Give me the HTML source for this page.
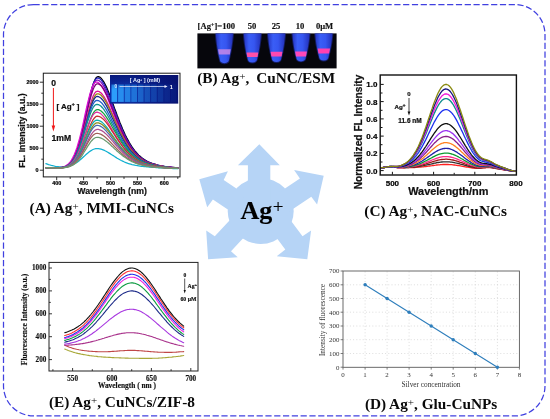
<!DOCTYPE html>
<html lang="en"><head><meta charset="utf-8"><title>Ag+ sensing with copper nanoclusters</title>
<style>
html,body{margin:0;padding:0;background:#fff;}
body{width:550px;height:419px;overflow:hidden;position:relative;}
svg{position:absolute;left:0;top:0;display:block;}
.sb{font-family:"Liberation Sans", Arial, sans-serif;font-weight:bold;fill:#111;stroke:#111;stroke-width:0.22px;}
.tb{font-family:"Liberation Serif", "Times New Roman", serif;font-weight:bold;fill:#111;stroke:#111;stroke-width:0.15px;}
.tr{font-family:"Liberation Serif", "Times New Roman", serif;font-weight:normal;fill:#333;}
.cap{font-family:"Liberation Serif", "Times New Roman", serif;font-weight:bold;font-size:15.3px;fill:#0a0a0a;}
.cv{fill:none;stroke-linejoin:round;stroke-linecap:round;}
</style></head><body>
<svg width="550" height="419" viewBox="0 0 550 419">

<defs>
<linearGradient id="tube" x1="0" y1="0" x2="1" y2="0">
<stop offset="0" stop-color="#2434c0"/><stop offset="0.3" stop-color="#3a5ef6"/><stop offset="0.6" stop-color="#3656f0"/><stop offset="1" stop-color="#2230b8"/>
</linearGradient>
<linearGradient id="inset" x1="0" y1="0" x2="1" y2="0">
<stop offset="0" stop-color="#0c2ea8"/><stop offset="0.3" stop-color="#0e36ac"/><stop offset="0.6" stop-color="#0a2290"/><stop offset="1" stop-color="#071274"/>
</linearGradient>
<linearGradient id="insetv" x1="0" y1="0" x2="0" y2="1">
<stop offset="0" stop-color="#06106c" stop-opacity="0.75"/><stop offset="0.3" stop-color="#06106c" stop-opacity="0.3"/><stop offset="0.5" stop-color="#06106c" stop-opacity="0"/><stop offset="0.92" stop-color="#06106c" stop-opacity="0"/><stop offset="1" stop-color="#06106c" stop-opacity="0.5"/>
</linearGradient>
<clipPath id="clipA"><rect x="43.8" y="73.7" width="135.7" height="102.7"/></clipPath>
<clipPath id="clipC"><rect x="380.8" y="75.6" width="135" height="98.8"/></clipPath>
<clipPath id="clipE"><rect x="49.5" y="263" width="148" height="107.5"/></clipPath>
</defs>

<rect x="3.5" y="4.5" width="541.5" height="411.4" rx="30" ry="30" fill="none" stroke="#4040e0" stroke-width="1.25" stroke-dasharray="6.2 2.6"/>
<g fill="#b6d4f6">
<circle cx="260.7" cy="210.9" r="33"/>
<polygon points="247.9,200.0 247.9,165.3 237.9,165.3 259.3,144.2 279.8,165.3 270.3,165.3 270.3,200.0"/>
<polygon points="234.5,213.9 212.9,199.4 207.2,207.3 199.3,179.3 227.9,171.2 223.7,180.0 245.3,194.5"/>
<polygon points="232.5,217.3 214.8,236.3 206.2,230.5 208.1,259.2 237.7,257.3 231.0,251.2 248.7,232.2"/>
<polygon points="278.2,193.0 299.9,178.6 294.1,170.0 323.7,175.8 317.1,204.4 311.3,196.8 289.6,211.2"/>
<polygon points="287.0,215.4 302.5,236.3 311.1,230.5 307.3,259.2 276.7,256.3 285.3,249.6 269.8,228.7"/>
</g>
<text x="240.6" y="218.6" class="tb" style="font-size:26px;fill:#000">Ag<tspan dx="0.3" dy="-5.6" style="font-size:19px;font-weight:normal">+</tspan></text>
<g clip-path="url(#clipA)">
<path class="cv" d="M45.9 163.6 L47.3 164.1 L48.6 164.6 L50.0 165.0 L51.3 165.4 L52.7 165.7 L54.0 166.0 L55.4 166.3 L56.7 166.5 L58.0 166.6 L59.4 166.8 L60.7 166.8 L62.1 166.9 L63.4 166.8 L64.8 166.7 L66.1 166.6 L67.5 166.4 L68.8 166.1 L70.2 165.7 L71.5 165.3 L72.8 164.7 L74.2 164.0 L75.5 163.3 L76.9 162.4 L78.2 161.4 L79.6 160.4 L80.9 159.2 L82.3 158.0 L83.6 156.8 L84.9 155.6 L86.3 154.3 L87.6 153.2 L89.0 152.1 L90.3 151.1 L91.7 150.2 L93.0 149.5 L94.4 149.0 L95.7 148.7 L97.1 148.6 L98.4 148.6 L99.7 148.8 L101.1 149.2 L102.4 149.6 L103.8 150.1 L105.1 150.8 L106.5 151.5 L107.8 152.2 L109.2 153.1 L110.5 153.9 L111.8 154.8 L113.2 155.6 L114.5 156.5 L115.9 157.4 L117.2 158.2 L118.6 159.0 L119.9 159.8 L121.3 160.5 L122.6 161.1 L124.0 161.8 L125.3 162.4 L126.6 162.9 L128.0 163.4 L129.3 163.8 L130.7 164.2 L132.0 164.6 L133.4 164.9 L134.7 165.2 L136.1 165.5 L137.4 165.7 L138.7 165.9 L140.1 166.1 L141.4 166.3 L142.8 166.4 L144.1 166.6 L145.5 166.7 L146.8 166.9 L148.2 167.0 L149.5 167.1 L150.9 167.2 L152.2 167.3 L153.5 167.4 L154.9 167.5 L156.2 167.6 L157.6 167.7 L158.9 167.8 L160.3 167.9 L161.6 167.9 L163.0 168.0 L164.3 168.1 L165.6 168.1 L167.0 168.2 L168.3 168.3 L169.7 168.3 L171.0 168.4 L172.4 168.5 L173.7 168.5 L175.1 168.6 L176.4 168.6 L177.8 168.7" stroke="#10b0d0" stroke-width="1.25"/>
<path class="cv" d="M45.9 167.6 L47.3 167.6 L48.6 167.7 L50.0 167.8 L51.3 167.8 L52.7 167.9 L54.0 167.9 L55.4 167.9 L56.7 167.9 L58.0 167.9 L59.4 167.8 L60.7 167.7 L62.1 167.5 L63.4 167.2 L64.8 166.8 L66.1 166.3 L67.5 165.6 L68.8 164.7 L70.2 163.5 L71.5 162.0 L72.8 160.1 L74.2 157.8 L75.5 154.9 L76.9 151.6 L78.2 147.7 L79.6 143.2 L80.9 138.1 L82.3 132.6 L83.6 126.6 L84.9 120.3 L86.3 113.8 L87.6 107.2 L89.0 100.8 L90.3 94.8 L91.7 89.4 L93.0 84.7 L94.4 81.0 L95.7 78.3 L97.1 76.9 L98.4 76.6 L99.7 77.1 L101.1 78.2 L102.4 79.8 L103.8 81.8 L105.1 84.3 L106.5 87.1 L107.8 90.3 L109.2 93.6 L110.5 97.1 L111.8 100.8 L113.2 104.5 L114.5 108.2 L115.9 111.8 L117.2 115.4 L118.6 119.0 L119.9 122.4 L121.3 125.7 L122.6 128.9 L124.0 132.0 L125.3 134.9 L126.6 137.6 L128.0 140.1 L129.3 142.5 L130.7 144.8 L132.0 146.9 L133.4 148.8 L134.7 150.6 L136.1 152.2 L137.4 153.7 L138.7 155.1 L140.1 156.3 L141.4 157.5 L142.8 158.5 L144.1 159.4 L145.5 160.3 L146.8 161.0 L148.2 161.7 L149.5 162.3 L150.9 162.9 L152.2 163.4 L153.5 163.8 L154.9 164.2 L156.2 164.6 L157.6 165.0 L158.9 165.3 L160.3 165.5 L161.6 165.8 L163.0 166.0 L164.3 166.3 L165.6 166.5 L167.0 166.7 L168.3 166.8 L169.7 167.0 L171.0 167.2 L172.4 167.3 L173.7 167.4 L175.1 167.6 L176.4 167.7 L177.8 167.8" stroke="#000000" stroke-width="1.25"/>
<path class="cv" d="M45.9 167.6 L47.3 167.6 L48.6 167.7 L50.0 167.8 L51.3 167.8 L52.7 167.9 L54.0 167.9 L55.4 167.9 L56.7 167.9 L58.0 167.8 L59.4 167.7 L60.7 167.6 L62.1 167.4 L63.4 167.1 L64.8 166.7 L66.1 166.1 L67.5 165.4 L68.8 164.4 L70.2 163.1 L71.5 161.5 L72.8 159.5 L74.2 157.1 L75.5 154.1 L76.9 150.6 L78.2 146.6 L79.6 142.0 L80.9 136.9 L82.3 131.3 L83.6 125.2 L84.9 118.9 L86.3 112.5 L87.6 106.1 L89.0 99.9 L90.3 94.1 L91.7 88.9 L93.0 84.6 L94.4 81.3 L95.7 79.0 L97.1 78.0 L98.4 78.1 L99.7 78.7 L101.1 79.9 L102.4 81.7 L103.8 83.8 L105.1 86.4 L106.5 89.3 L107.8 92.4 L109.2 95.8 L110.5 99.3 L111.8 102.9 L113.2 106.5 L114.5 110.2 L115.9 113.8 L117.2 117.3 L118.6 120.8 L119.9 124.1 L121.3 127.4 L122.6 130.5 L124.0 133.4 L125.3 136.2 L126.6 138.8 L128.0 141.3 L129.3 143.6 L130.7 145.8 L132.0 147.8 L133.4 149.7 L134.7 151.4 L136.1 152.9 L137.4 154.4 L138.7 155.7 L140.1 156.9 L141.4 157.9 L142.8 158.9 L144.1 159.8 L145.5 160.6 L146.8 161.3 L148.2 162.0 L149.5 162.6 L150.9 163.1 L152.2 163.6 L153.5 164.0 L154.9 164.4 L156.2 164.8 L157.6 165.1 L158.9 165.4 L160.3 165.7 L161.6 165.9 L163.0 166.2 L164.3 166.4 L165.6 166.6 L167.0 166.7 L168.3 166.9 L169.7 167.1 L171.0 167.2 L172.4 167.4 L173.7 167.5 L175.1 167.6 L176.4 167.8 L177.8 167.9" stroke="#2020c0" stroke-width="1.25"/>
<path class="cv" d="M45.9 167.6 L47.3 167.6 L48.6 167.7 L50.0 167.8 L51.3 167.8 L52.7 167.9 L54.0 167.9 L55.4 167.9 L56.7 167.9 L58.0 167.8 L59.4 167.7 L60.7 167.6 L62.1 167.4 L63.4 167.0 L64.8 166.6 L66.1 166.0 L67.5 165.2 L68.8 164.2 L70.2 162.9 L71.5 161.2 L72.8 159.2 L74.2 156.7 L75.5 153.7 L76.9 150.1 L78.2 146.1 L79.6 141.5 L80.9 136.3 L82.3 130.7 L83.6 124.8 L84.9 118.6 L86.3 112.3 L87.6 106.0 L89.0 100.1 L90.3 94.6 L91.7 89.7 L93.0 85.7 L94.4 82.7 L95.7 80.8 L97.1 80.0 L98.4 80.3 L99.7 81.1 L101.1 82.4 L102.4 84.1 L103.8 86.4 L105.1 88.9 L106.5 91.8 L107.8 95.0 L109.2 98.3 L110.5 101.8 L111.8 105.3 L113.2 108.8 L114.5 112.4 L115.9 115.9 L117.2 119.3 L118.6 122.7 L119.9 126.0 L121.3 129.1 L122.6 132.1 L124.0 134.9 L125.3 137.6 L126.6 140.1 L128.0 142.5 L129.3 144.7 L130.7 146.8 L132.0 148.7 L133.4 150.5 L134.7 152.1 L136.1 153.6 L137.4 155.0 L138.7 156.3 L140.1 157.4 L141.4 158.4 L142.8 159.4 L144.1 160.2 L145.5 161.0 L146.8 161.7 L148.2 162.3 L149.5 162.9 L150.9 163.4 L152.2 163.8 L153.5 164.2 L154.9 164.6 L156.2 164.9 L157.6 165.3 L158.9 165.5 L160.3 165.8 L161.6 166.0 L163.0 166.3 L164.3 166.5 L165.6 166.7 L167.0 166.8 L168.3 167.0 L169.7 167.1 L171.0 167.3 L172.4 167.4 L173.7 167.6 L175.1 167.7 L176.4 167.8 L177.8 167.9" stroke="#7a10c0" stroke-width="1.25"/>
<path class="cv" d="M45.9 167.6 L47.3 167.6 L48.6 167.7 L50.0 167.8 L51.3 167.8 L52.7 167.8 L54.0 167.8 L55.4 167.8 L56.7 167.8 L58.0 167.7 L59.4 167.6 L60.7 167.4 L62.1 167.2 L63.4 166.8 L64.8 166.2 L66.1 165.5 L67.5 164.6 L68.8 163.4 L70.2 161.9 L71.5 160.0 L72.8 157.6 L74.2 154.8 L75.5 151.5 L76.9 147.7 L78.2 143.3 L79.6 138.4 L80.9 133.1 L82.3 127.4 L83.6 121.3 L84.9 115.2 L86.3 109.0 L87.6 103.1 L89.0 97.6 L90.3 92.6 L91.7 88.4 L93.0 85.2 L94.4 83.0 L95.7 82.0 L97.1 82.0 L98.4 82.6 L99.7 83.8 L101.1 85.4 L102.4 87.4 L103.8 89.9 L105.1 92.6 L106.5 95.6 L107.8 98.8 L109.2 102.2 L110.5 105.6 L111.8 109.1 L113.2 112.6 L114.5 116.0 L115.9 119.4 L117.2 122.8 L118.6 126.0 L119.9 129.1 L121.3 132.0 L122.6 134.8 L124.0 137.5 L125.3 140.0 L126.6 142.4 L128.0 144.6 L129.3 146.7 L130.7 148.6 L132.0 150.4 L133.4 152.1 L134.7 153.6 L136.1 154.9 L137.4 156.2 L138.7 157.3 L140.1 158.4 L141.4 159.3 L142.8 160.2 L144.1 160.9 L145.5 161.6 L146.8 162.3 L148.2 162.8 L149.5 163.3 L150.9 163.8 L152.2 164.2 L153.5 164.6 L154.9 164.9 L156.2 165.2 L157.6 165.5 L158.9 165.8 L160.3 166.0 L161.6 166.2 L163.0 166.5 L164.3 166.6 L165.6 166.8 L167.0 167.0 L168.3 167.1 L169.7 167.3 L171.0 167.4 L172.4 167.5 L173.7 167.7 L175.1 167.8 L176.4 167.9 L177.8 168.0" stroke="#e010d0" stroke-width="1.25"/>
<path class="cv" d="M45.9 167.6 L47.3 167.6 L48.6 167.7 L50.0 167.8 L51.3 167.8 L52.7 167.9 L54.0 167.9 L55.4 167.9 L56.7 167.9 L58.0 167.8 L59.4 167.8 L60.7 167.6 L62.1 167.4 L63.4 167.2 L64.8 166.8 L66.1 166.2 L67.5 165.5 L68.8 164.6 L70.2 163.4 L71.5 161.8 L72.8 159.9 L74.2 157.6 L75.5 154.8 L76.9 151.5 L78.2 147.7 L79.6 143.3 L80.9 138.5 L82.3 133.2 L83.6 127.5 L84.9 121.6 L86.3 115.6 L87.6 109.6 L89.0 103.8 L90.3 98.5 L91.7 93.7 L93.0 89.7 L94.4 86.6 L95.7 84.6 L97.1 83.8 L98.4 83.9 L99.7 84.6 L101.1 85.7 L102.4 87.4 L103.8 89.4 L105.1 91.9 L106.5 94.6 L107.8 97.6 L109.2 100.7 L110.5 104.0 L111.8 107.4 L113.2 110.8 L114.5 114.2 L115.9 117.6 L117.2 120.9 L118.6 124.1 L119.9 127.2 L121.3 130.3 L122.6 133.1 L124.0 135.9 L125.3 138.5 L126.6 140.9 L128.0 143.2 L129.3 145.4 L130.7 147.4 L132.0 149.3 L133.4 151.0 L134.7 152.6 L136.1 154.0 L137.4 155.4 L138.7 156.6 L140.1 157.7 L141.4 158.7 L142.8 159.6 L144.1 160.4 L145.5 161.2 L146.8 161.9 L148.2 162.5 L149.5 163.0 L150.9 163.5 L152.2 164.0 L153.5 164.4 L154.9 164.7 L156.2 165.1 L157.6 165.4 L158.9 165.6 L160.3 165.9 L161.6 166.1 L163.0 166.3 L164.3 166.5 L165.6 166.7 L167.0 166.9 L168.3 167.0 L169.7 167.2 L171.0 167.3 L172.4 167.5 L173.7 167.6 L175.1 167.7 L176.4 167.8 L177.8 167.9" stroke="#800078" stroke-width="1.25"/>
<path class="cv" d="M45.9 167.6 L47.3 167.6 L48.6 167.7 L50.0 167.8 L51.3 167.8 L52.7 167.9 L54.0 167.9 L55.4 167.9 L56.7 167.9 L58.0 167.8 L59.4 167.8 L60.7 167.7 L62.1 167.5 L63.4 167.2 L64.8 166.9 L66.1 166.4 L67.5 165.7 L68.8 164.8 L70.2 163.7 L71.5 162.3 L72.8 160.6 L74.2 158.4 L75.5 155.9 L76.9 152.8 L78.2 149.3 L79.6 145.3 L80.9 140.9 L82.3 136.1 L83.6 130.9 L84.9 125.5 L86.3 120.0 L87.6 114.5 L89.0 109.2 L90.3 104.4 L91.7 100.1 L93.0 96.4 L94.4 93.7 L95.7 91.9 L97.1 91.2 L98.4 91.3 L99.7 91.9 L101.1 93.0 L102.4 94.5 L103.8 96.4 L105.1 98.6 L106.5 101.1 L107.8 103.9 L109.2 106.7 L110.5 109.8 L111.8 112.8 L113.2 115.9 L114.5 119.1 L115.9 122.1 L117.2 125.2 L118.6 128.1 L119.9 131.0 L121.3 133.7 L122.6 136.3 L124.0 138.8 L125.3 141.2 L126.6 143.4 L128.0 145.5 L129.3 147.5 L130.7 149.3 L132.0 151.0 L133.4 152.6 L134.7 154.0 L136.1 155.4 L137.4 156.6 L138.7 157.7 L140.1 158.7 L141.4 159.6 L142.8 160.4 L144.1 161.2 L145.5 161.9 L146.8 162.5 L148.2 163.0 L149.5 163.5 L150.9 164.0 L152.2 164.4 L153.5 164.7 L154.9 165.1 L156.2 165.4 L157.6 165.7 L158.9 165.9 L160.3 166.1 L161.6 166.3 L163.0 166.5 L164.3 166.7 L165.6 166.9 L167.0 167.0 L168.3 167.2 L169.7 167.3 L171.0 167.5 L172.4 167.6 L173.7 167.7 L175.1 167.8 L176.4 167.9 L177.8 168.0" stroke="#e0109a" stroke-width="1.25"/>
<path class="cv" d="M45.9 167.6 L47.3 167.6 L48.6 167.7 L50.0 167.8 L51.3 167.8 L52.7 167.9 L54.0 167.9 L55.4 167.9 L56.7 167.9 L58.0 167.9 L59.4 167.8 L60.7 167.7 L62.1 167.6 L63.4 167.3 L64.8 167.0 L66.1 166.5 L67.5 165.9 L68.8 165.1 L70.2 164.1 L71.5 162.8 L72.8 161.2 L74.2 159.2 L75.5 156.8 L76.9 154.0 L78.2 150.7 L79.6 146.9 L80.9 142.7 L82.3 138.1 L83.6 133.2 L84.9 128.0 L86.3 122.7 L87.6 117.4 L89.0 112.3 L90.3 107.5 L91.7 103.2 L93.0 99.5 L94.4 96.7 L95.7 94.8 L97.1 93.9 L98.4 93.9 L99.7 94.4 L101.1 95.3 L102.4 96.7 L103.8 98.5 L105.1 100.6 L106.5 102.9 L107.8 105.5 L109.2 108.3 L110.5 111.2 L111.8 114.1 L113.2 117.1 L114.5 120.1 L115.9 123.1 L117.2 126.1 L118.6 128.9 L119.9 131.7 L121.3 134.4 L122.6 136.9 L124.0 139.4 L125.3 141.7 L126.6 143.9 L128.0 145.9 L129.3 147.8 L130.7 149.6 L132.0 151.3 L133.4 152.8 L134.7 154.3 L136.1 155.6 L137.4 156.8 L138.7 157.8 L140.1 158.8 L141.4 159.7 L142.8 160.6 L144.1 161.3 L145.5 162.0 L146.8 162.6 L148.2 163.1 L149.5 163.6 L150.9 164.0 L152.2 164.4 L153.5 164.8 L154.9 165.1 L156.2 165.4 L157.6 165.7 L158.9 166.0 L160.3 166.2 L161.6 166.4 L163.0 166.6 L164.3 166.8 L165.6 166.9 L167.0 167.1 L168.3 167.2 L169.7 167.4 L171.0 167.5 L172.4 167.6 L173.7 167.7 L175.1 167.8 L176.4 167.9 L177.8 168.0" stroke="#9a8a10" stroke-width="1.25"/>
<path class="cv" d="M45.9 167.6 L47.3 167.6 L48.6 167.7 L50.0 167.8 L51.3 167.8 L52.7 167.9 L54.0 167.9 L55.4 167.9 L56.7 167.9 L58.0 167.9 L59.4 167.8 L60.7 167.7 L62.1 167.5 L63.4 167.3 L64.8 166.9 L66.1 166.5 L67.5 165.8 L68.8 165.0 L70.2 163.9 L71.5 162.6 L72.8 160.9 L74.2 158.9 L75.5 156.5 L76.9 153.6 L78.2 150.3 L79.6 146.6 L80.9 142.4 L82.3 137.9 L83.6 133.1 L84.9 128.0 L86.3 122.9 L87.6 117.8 L89.0 112.9 L90.3 108.4 L91.7 104.4 L93.0 101.1 L94.4 98.6 L95.7 97.0 L97.1 96.4 L98.4 96.6 L99.7 97.2 L101.1 98.3 L102.4 99.7 L103.8 101.5 L105.1 103.6 L106.5 105.9 L107.8 108.5 L109.2 111.2 L110.5 114.0 L111.8 116.9 L113.2 119.8 L114.5 122.7 L115.9 125.5 L117.2 128.3 L118.6 131.1 L119.9 133.7 L121.3 136.3 L122.6 138.7 L124.0 141.0 L125.3 143.2 L126.6 145.3 L128.0 147.3 L129.3 149.1 L130.7 150.8 L132.0 152.3 L133.4 153.8 L134.7 155.1 L136.1 156.4 L137.4 157.5 L138.7 158.5 L140.1 159.4 L141.4 160.3 L142.8 161.0 L144.1 161.7 L145.5 162.4 L146.8 162.9 L148.2 163.4 L149.5 163.9 L150.9 164.3 L152.2 164.7 L153.5 165.0 L154.9 165.3 L156.2 165.6 L157.6 165.9 L158.9 166.1 L160.3 166.3 L161.6 166.5 L163.0 166.7 L164.3 166.9 L165.6 167.0 L167.0 167.2 L168.3 167.3 L169.7 167.4 L171.0 167.6 L172.4 167.7 L173.7 167.8 L175.1 167.9 L176.4 168.0 L177.8 168.1" stroke="#1c2a90" stroke-width="1.25"/>
<path class="cv" d="M45.9 167.6 L47.3 167.6 L48.6 167.7 L50.0 167.8 L51.3 167.8 L52.7 167.9 L54.0 167.9 L55.4 167.9 L56.7 167.9 L58.0 167.8 L59.4 167.8 L60.7 167.7 L62.1 167.5 L63.4 167.2 L64.8 166.9 L66.1 166.4 L67.5 165.8 L68.8 165.0 L70.2 163.9 L71.5 162.6 L72.8 160.9 L74.2 158.9 L75.5 156.5 L76.9 153.7 L78.2 150.5 L79.6 146.9 L80.9 142.9 L82.3 138.5 L83.6 133.9 L84.9 129.1 L86.3 124.2 L87.6 119.4 L89.0 114.9 L90.3 110.8 L91.7 107.1 L93.0 104.2 L94.4 102.0 L95.7 100.7 L97.1 100.4 L98.4 100.6 L99.7 101.3 L101.1 102.4 L102.4 103.8 L103.8 105.6 L105.1 107.7 L106.5 109.9 L107.8 112.4 L109.2 115.0 L110.5 117.6 L111.8 120.4 L113.2 123.1 L114.5 125.8 L115.9 128.5 L117.2 131.2 L118.6 133.7 L119.9 136.2 L121.3 138.6 L122.6 140.9 L124.0 143.1 L125.3 145.1 L126.6 147.0 L128.0 148.8 L129.3 150.5 L130.7 152.1 L132.0 153.6 L133.4 154.9 L134.7 156.2 L136.1 157.3 L137.4 158.3 L138.7 159.3 L140.1 160.1 L141.4 160.9 L142.8 161.6 L144.1 162.3 L145.5 162.8 L146.8 163.4 L148.2 163.8 L149.5 164.3 L150.9 164.6 L152.2 165.0 L153.5 165.3 L154.9 165.6 L156.2 165.8 L157.6 166.1 L158.9 166.3 L160.3 166.5 L161.6 166.7 L163.0 166.8 L164.3 167.0 L165.6 167.1 L167.0 167.3 L168.3 167.4 L169.7 167.5 L171.0 167.6 L172.4 167.7 L173.7 167.8 L175.1 167.9 L176.4 168.0 L177.8 168.1" stroke="#2060c8" stroke-width="1.25"/>
<path class="cv" d="M45.9 167.6 L47.3 167.6 L48.6 167.7 L50.0 167.8 L51.3 167.8 L52.7 167.9 L54.0 167.9 L55.4 167.9 L56.7 167.9 L58.0 167.9 L59.4 167.8 L60.7 167.7 L62.1 167.5 L63.4 167.3 L64.8 166.9 L66.1 166.5 L67.5 165.9 L68.8 165.1 L70.2 164.1 L71.5 162.8 L72.8 161.2 L74.2 159.3 L75.5 157.0 L76.9 154.4 L78.2 151.3 L79.6 147.8 L80.9 144.0 L82.3 139.9 L83.6 135.5 L84.9 131.0 L86.3 126.4 L87.6 121.9 L89.0 117.7 L90.3 113.8 L91.7 110.5 L93.0 107.7 L94.4 105.8 L95.7 104.6 L97.1 104.3 L98.4 104.6 L99.7 105.3 L101.1 106.3 L102.4 107.7 L103.8 109.4 L105.1 111.4 L106.5 113.5 L107.8 115.8 L109.2 118.3 L110.5 120.8 L111.8 123.4 L113.2 125.9 L114.5 128.5 L115.9 131.1 L117.2 133.5 L118.6 135.9 L119.9 138.3 L121.3 140.5 L122.6 142.7 L124.0 144.7 L125.3 146.6 L126.6 148.4 L128.0 150.1 L129.3 151.7 L130.7 153.2 L132.0 154.5 L133.4 155.8 L134.7 157.0 L136.1 158.0 L137.4 159.0 L138.7 159.9 L140.1 160.7 L141.4 161.4 L142.8 162.1 L144.1 162.7 L145.5 163.2 L146.8 163.7 L148.2 164.1 L149.5 164.5 L150.9 164.9 L152.2 165.2 L153.5 165.5 L154.9 165.8 L156.2 166.0 L157.6 166.2 L158.9 166.5 L160.3 166.6 L161.6 166.8 L163.0 167.0 L164.3 167.1 L165.6 167.2 L167.0 167.4 L168.3 167.5 L169.7 167.6 L171.0 167.7 L172.4 167.8 L173.7 167.9 L175.1 168.0 L176.4 168.1 L177.8 168.2" stroke="#109090" stroke-width="1.25"/>
<path class="cv" d="M45.9 167.6 L47.3 167.6 L48.6 167.7 L50.0 167.8 L51.3 167.8 L52.7 167.9 L54.0 167.9 L55.4 167.9 L56.7 167.9 L58.0 167.9 L59.4 167.8 L60.7 167.8 L62.1 167.6 L63.4 167.4 L64.8 167.2 L66.1 166.8 L67.5 166.3 L68.8 165.6 L70.2 164.8 L71.5 163.7 L72.8 162.3 L74.2 160.7 L75.5 158.7 L76.9 156.4 L78.2 153.7 L79.6 150.7 L80.9 147.3 L82.3 143.6 L83.6 139.7 L84.9 135.6 L86.3 131.4 L87.6 127.2 L89.0 123.2 L90.3 119.5 L91.7 116.2 L93.0 113.5 L94.4 111.4 L95.7 110.1 L97.1 109.6 L98.4 109.7 L99.7 110.2 L101.1 111.0 L102.4 112.2 L103.8 113.6 L105.1 115.4 L106.5 117.3 L107.8 119.3 L109.2 121.6 L110.5 123.8 L111.8 126.2 L113.2 128.6 L114.5 130.9 L115.9 133.3 L117.2 135.6 L118.6 137.8 L119.9 140.0 L121.3 142.1 L122.6 144.1 L124.0 146.0 L125.3 147.8 L126.6 149.5 L128.0 151.1 L129.3 152.6 L130.7 154.0 L132.0 155.3 L133.4 156.4 L134.7 157.5 L136.1 158.5 L137.4 159.5 L138.7 160.3 L140.1 161.1 L141.4 161.8 L142.8 162.4 L144.1 163.0 L145.5 163.5 L146.8 164.0 L148.2 164.4 L149.5 164.8 L150.9 165.1 L152.2 165.4 L153.5 165.7 L154.9 165.9 L156.2 166.2 L157.6 166.4 L158.9 166.6 L160.3 166.7 L161.6 166.9 L163.0 167.1 L164.3 167.2 L165.6 167.3 L167.0 167.4 L168.3 167.6 L169.7 167.7 L171.0 167.8 L172.4 167.9 L173.7 167.9 L175.1 168.0 L176.4 168.1 L177.8 168.2" stroke="#18a040" stroke-width="1.25"/>
<path class="cv" d="M45.9 167.6 L47.3 167.6 L48.6 167.7 L50.0 167.8 L51.3 167.8 L52.7 167.9 L54.0 167.9 L55.4 167.9 L56.7 167.9 L58.0 167.9 L59.4 167.8 L60.7 167.7 L62.1 167.6 L63.4 167.4 L64.8 167.0 L66.1 166.6 L67.5 166.1 L68.8 165.4 L70.2 164.5 L71.5 163.3 L72.8 161.9 L74.2 160.2 L75.5 158.1 L76.9 155.8 L78.2 153.0 L79.6 150.0 L80.9 146.6 L82.3 142.9 L83.6 139.1 L84.9 135.1 L86.3 131.1 L87.6 127.2 L89.0 123.5 L90.3 120.1 L91.7 117.3 L93.0 114.9 L94.4 113.3 L95.7 112.4 L97.1 112.2 L98.4 112.5 L99.7 113.1 L101.1 114.1 L102.4 115.4 L103.8 116.9 L105.1 118.6 L106.5 120.5 L107.8 122.5 L109.2 124.7 L110.5 126.9 L111.8 129.2 L113.2 131.4 L114.5 133.7 L115.9 135.9 L117.2 138.1 L118.6 140.2 L119.9 142.2 L121.3 144.2 L122.6 146.1 L124.0 147.8 L125.3 149.5 L126.6 151.1 L128.0 152.6 L129.3 153.9 L130.7 155.2 L132.0 156.4 L133.4 157.5 L134.7 158.5 L136.1 159.4 L137.4 160.3 L138.7 161.0 L140.1 161.7 L141.4 162.4 L142.8 162.9 L144.1 163.5 L145.5 163.9 L146.8 164.4 L148.2 164.7 L149.5 165.1 L150.9 165.4 L152.2 165.7 L153.5 165.9 L154.9 166.2 L156.2 166.4 L157.6 166.6 L158.9 166.7 L160.3 166.9 L161.6 167.1 L163.0 167.2 L164.3 167.3 L165.6 167.4 L167.0 167.6 L168.3 167.7 L169.7 167.8 L171.0 167.8 L172.4 167.9 L173.7 168.0 L175.1 168.1 L176.4 168.2 L177.8 168.2" stroke="#e030a0" stroke-width="1.25"/>
<path class="cv" d="M45.9 167.6 L47.3 167.6 L48.6 167.7 L50.0 167.8 L51.3 167.8 L52.7 167.9 L54.0 167.9 L55.4 167.9 L56.7 167.9 L58.0 167.9 L59.4 167.9 L60.7 167.8 L62.1 167.7 L63.4 167.5 L64.8 167.3 L66.1 167.0 L67.5 166.5 L68.8 166.0 L70.2 165.2 L71.5 164.3 L72.8 163.1 L74.2 161.7 L75.5 160.0 L76.9 157.9 L78.2 155.6 L79.6 152.9 L80.9 149.9 L82.3 146.7 L83.6 143.2 L84.9 139.5 L86.3 135.8 L87.6 132.1 L89.0 128.6 L90.3 125.2 L91.7 122.3 L93.0 119.8 L94.4 118.0 L95.7 116.7 L97.1 116.2 L98.4 116.3 L99.7 116.7 L101.1 117.4 L102.4 118.4 L103.8 119.7 L105.1 121.2 L106.5 122.9 L107.8 124.7 L109.2 126.6 L110.5 128.7 L111.8 130.8 L113.2 132.9 L114.5 135.0 L115.9 137.1 L117.2 139.1 L118.6 141.1 L119.9 143.0 L121.3 144.9 L122.6 146.7 L124.0 148.4 L125.3 150.0 L126.6 151.5 L128.0 152.9 L129.3 154.3 L130.7 155.5 L132.0 156.7 L133.4 157.7 L134.7 158.7 L136.1 159.6 L137.4 160.4 L138.7 161.2 L140.1 161.9 L141.4 162.5 L142.8 163.1 L144.1 163.6 L145.5 164.0 L146.8 164.4 L148.2 164.8 L149.5 165.2 L150.9 165.5 L152.2 165.7 L153.5 166.0 L154.9 166.2 L156.2 166.4 L157.6 166.6 L158.9 166.8 L160.3 166.9 L161.6 167.1 L163.0 167.2 L164.3 167.4 L165.6 167.5 L167.0 167.6 L168.3 167.7 L169.7 167.8 L171.0 167.9 L172.4 167.9 L173.7 168.0 L175.1 168.1 L176.4 168.2 L177.8 168.2" stroke="#c83030" stroke-width="1.25"/>
<path class="cv" d="M45.9 167.6 L47.3 167.6 L48.6 167.7 L50.0 167.8 L51.3 167.8 L52.7 167.9 L54.0 167.9 L55.4 167.9 L56.7 167.9 L58.0 167.9 L59.4 167.9 L60.7 167.8 L62.1 167.7 L63.4 167.5 L64.8 167.3 L66.1 166.9 L67.5 166.5 L68.8 165.9 L70.2 165.1 L71.5 164.2 L72.8 163.0 L74.2 161.6 L75.5 159.9 L76.9 157.9 L78.2 155.6 L79.6 153.0 L80.9 150.1 L82.3 147.0 L83.6 143.8 L84.9 140.3 L86.3 136.9 L87.6 133.5 L89.0 130.3 L90.3 127.4 L91.7 124.8 L93.0 122.8 L94.4 121.3 L95.7 120.4 L97.1 120.1 L98.4 120.3 L99.7 120.8 L101.1 121.6 L102.4 122.6 L103.8 123.9 L105.1 125.4 L106.5 127.0 L107.8 128.7 L109.2 130.6 L110.5 132.5 L111.8 134.4 L113.2 136.3 L114.5 138.3 L115.9 140.2 L117.2 142.1 L118.6 143.9 L119.9 145.7 L121.3 147.3 L122.6 149.0 L124.0 150.5 L125.3 152.0 L126.6 153.3 L128.0 154.6 L129.3 155.8 L130.7 156.9 L132.0 158.0 L133.4 158.9 L134.7 159.8 L136.1 160.6 L137.4 161.3 L138.7 162.0 L140.1 162.6 L141.4 163.2 L142.8 163.7 L144.1 164.1 L145.5 164.5 L146.8 164.9 L148.2 165.2 L149.5 165.5 L150.9 165.8 L152.2 166.1 L153.5 166.3 L154.9 166.5 L156.2 166.7 L157.6 166.8 L158.9 167.0 L160.3 167.1 L161.6 167.3 L163.0 167.4 L164.3 167.5 L165.6 167.6 L167.0 167.7 L168.3 167.8 L169.7 167.9 L171.0 168.0 L172.4 168.0 L173.7 168.1 L175.1 168.2 L176.4 168.2 L177.8 168.3" stroke="#10b0b0" stroke-width="1.25"/>
<path class="cv" d="M45.9 167.6 L47.3 167.6 L48.6 167.7 L50.0 167.8 L51.3 167.8 L52.7 167.9 L54.0 167.9 L55.4 167.9 L56.7 167.9 L58.0 167.9 L59.4 167.9 L60.7 167.8 L62.1 167.7 L63.4 167.6 L64.8 167.4 L66.1 167.1 L67.5 166.7 L68.8 166.2 L70.2 165.5 L71.5 164.7 L72.8 163.6 L74.2 162.4 L75.5 160.8 L76.9 159.0 L78.2 156.9 L79.6 154.6 L80.9 151.9 L82.3 149.1 L83.6 146.0 L84.9 142.8 L86.3 139.5 L87.6 136.3 L89.0 133.2 L90.3 130.4 L91.7 127.8 L93.0 125.8 L94.4 124.2 L95.7 123.2 L97.1 122.8 L98.4 122.9 L99.7 123.3 L101.1 123.9 L102.4 124.8 L103.8 126.0 L105.1 127.3 L106.5 128.8 L107.8 130.4 L109.2 132.1 L110.5 133.9 L111.8 135.7 L113.2 137.6 L114.5 139.4 L115.9 141.2 L117.2 143.0 L118.6 144.8 L119.9 146.4 L121.3 148.1 L122.6 149.6 L124.0 151.1 L125.3 152.5 L126.6 153.8 L128.0 155.0 L129.3 156.2 L130.7 157.3 L132.0 158.3 L133.4 159.2 L134.7 160.0 L136.1 160.8 L137.4 161.5 L138.7 162.2 L140.1 162.8 L141.4 163.3 L142.8 163.8 L144.1 164.2 L145.5 164.6 L146.8 165.0 L148.2 165.3 L149.5 165.6 L150.9 165.9 L152.2 166.1 L153.5 166.4 L154.9 166.6 L156.2 166.7 L157.6 166.9 L158.9 167.0 L160.3 167.2 L161.6 167.3 L163.0 167.4 L164.3 167.5 L165.6 167.6 L167.0 167.7 L168.3 167.8 L169.7 167.9 L171.0 168.0 L172.4 168.1 L173.7 168.1 L175.1 168.2 L176.4 168.3 L177.8 168.3" stroke="#8c8c20" stroke-width="1.25"/>
<path class="cv" d="M45.9 167.6 L47.3 167.6 L48.6 167.7 L50.0 167.8 L51.3 167.8 L52.7 167.9 L54.0 167.9 L55.4 167.9 L56.7 167.9 L58.0 167.9 L59.4 167.9 L60.7 167.8 L62.1 167.7 L63.4 167.6 L64.8 167.4 L66.1 167.1 L67.5 166.7 L68.8 166.2 L70.2 165.6 L71.5 164.8 L72.8 163.8 L74.2 162.5 L75.5 161.1 L76.9 159.3 L78.2 157.3 L79.6 155.1 L80.9 152.6 L82.3 149.8 L83.6 146.9 L84.9 143.9 L86.3 140.8 L87.6 137.8 L89.0 134.9 L90.3 132.3 L91.7 129.9 L93.0 128.0 L94.4 126.6 L95.7 125.7 L97.1 125.4 L98.4 125.5 L99.7 125.9 L101.1 126.6 L102.4 127.5 L103.8 128.6 L105.1 129.9 L106.5 131.3 L107.8 132.8 L109.2 134.4 L110.5 136.1 L111.8 137.8 L113.2 139.6 L114.5 141.3 L115.9 143.0 L117.2 144.7 L118.6 146.3 L119.9 147.9 L121.3 149.4 L122.6 150.9 L124.0 152.3 L125.3 153.6 L126.6 154.8 L128.0 155.9 L129.3 157.0 L130.7 158.0 L132.0 159.0 L133.4 159.8 L134.7 160.6 L136.1 161.4 L137.4 162.0 L138.7 162.6 L140.1 163.2 L141.4 163.7 L142.8 164.1 L144.1 164.5 L145.5 164.9 L146.8 165.3 L148.2 165.6 L149.5 165.8 L150.9 166.1 L152.2 166.3 L153.5 166.5 L154.9 166.7 L156.2 166.9 L157.6 167.0 L158.9 167.2 L160.3 167.3 L161.6 167.4 L163.0 167.5 L164.3 167.6 L165.6 167.7 L167.0 167.8 L168.3 167.9 L169.7 168.0 L171.0 168.0 L172.4 168.1 L173.7 168.2 L175.1 168.2 L176.4 168.3 L177.8 168.3" stroke="#4a6ab0" stroke-width="1.25"/>
<path class="cv" d="M45.9 167.6 L47.3 167.6 L48.6 167.7 L50.0 167.8 L51.3 167.8 L52.7 167.9 L54.0 167.9 L55.4 167.9 L56.7 168.0 L58.0 168.0 L59.4 167.9 L60.7 167.9 L62.1 167.8 L63.4 167.7 L64.8 167.5 L66.1 167.3 L67.5 167.0 L68.8 166.5 L70.2 166.0 L71.5 165.3 L72.8 164.4 L74.2 163.3 L75.5 162.0 L76.9 160.5 L78.2 158.7 L79.6 156.7 L80.9 154.5 L82.3 152.1 L83.6 149.4 L84.9 146.7 L86.3 143.9 L87.6 141.2 L89.0 138.5 L90.3 136.1 L91.7 133.9 L93.0 132.1 L94.4 130.7 L95.7 129.8 L97.1 129.4 L98.4 129.4 L99.7 129.8 L101.1 130.3 L102.4 131.1 L103.8 132.0 L105.1 133.2 L106.5 134.4 L107.8 135.8 L109.2 137.3 L110.5 138.8 L111.8 140.3 L113.2 141.9 L114.5 143.5 L115.9 145.0 L117.2 146.6 L118.6 148.1 L119.9 149.5 L121.3 150.9 L122.6 152.2 L124.0 153.5 L125.3 154.7 L126.6 155.8 L128.0 156.9 L129.3 157.9 L130.7 158.8 L132.0 159.7 L133.4 160.5 L134.7 161.2 L136.1 161.9 L137.4 162.5 L138.7 163.1 L140.1 163.6 L141.4 164.0 L142.8 164.5 L144.1 164.8 L145.5 165.2 L146.8 165.5 L148.2 165.8 L149.5 166.0 L150.9 166.3 L152.2 166.5 L153.5 166.7 L154.9 166.8 L156.2 167.0 L157.6 167.1 L158.9 167.3 L160.3 167.4 L161.6 167.5 L163.0 167.6 L164.3 167.7 L165.6 167.8 L167.0 167.9 L168.3 167.9 L169.7 168.0 L171.0 168.1 L172.4 168.1 L173.7 168.2 L175.1 168.3 L176.4 168.3 L177.8 168.4" stroke="#b05090" stroke-width="1.25"/>
<path class="cv" d="M45.9 167.6 L47.3 167.6 L48.6 167.7 L50.0 167.8 L51.3 167.8 L52.7 167.9 L54.0 167.9 L55.4 167.9 L56.7 168.0 L58.0 167.9 L59.4 167.9 L60.7 167.9 L62.1 167.8 L63.4 167.7 L64.8 167.5 L66.1 167.3 L67.5 167.0 L68.8 166.5 L70.2 166.0 L71.5 165.3 L72.8 164.5 L74.2 163.5 L75.5 162.2 L76.9 160.8 L78.2 159.2 L79.6 157.3 L80.9 155.2 L82.3 153.0 L83.6 150.6 L84.9 148.1 L86.3 145.6 L87.6 143.2 L89.0 140.8 L90.3 138.7 L91.7 136.8 L93.0 135.3 L94.4 134.2 L95.7 133.5 L97.1 133.3 L98.4 133.5 L99.7 133.8 L101.1 134.4 L102.4 135.1 L103.8 136.0 L105.1 137.1 L106.5 138.3 L107.8 139.5 L109.2 140.9 L110.5 142.2 L111.8 143.6 L113.2 145.1 L114.5 146.5 L115.9 147.9 L117.2 149.2 L118.6 150.6 L119.9 151.8 L121.3 153.1 L122.6 154.3 L124.0 155.4 L125.3 156.4 L126.6 157.4 L128.0 158.4 L129.3 159.2 L130.7 160.1 L132.0 160.8 L133.4 161.5 L134.7 162.2 L136.1 162.7 L137.4 163.3 L138.7 163.8 L140.1 164.2 L141.4 164.6 L142.8 165.0 L144.1 165.3 L145.5 165.6 L146.8 165.9 L148.2 166.1 L149.5 166.4 L150.9 166.6 L152.2 166.8 L153.5 166.9 L154.9 167.1 L156.2 167.2 L157.6 167.3 L158.9 167.4 L160.3 167.5 L161.6 167.6 L163.0 167.7 L164.3 167.8 L165.6 167.9 L167.0 168.0 L168.3 168.0 L169.7 168.1 L171.0 168.2 L172.4 168.2 L173.7 168.3 L175.1 168.3 L176.4 168.4 L177.8 168.4" stroke="#a06058" stroke-width="1.25"/>
<path class="cv" d="M45.9 167.6 L47.3 167.6 L48.6 167.7 L50.0 167.8 L51.3 167.8 L52.7 167.9 L54.0 167.9 L55.4 167.9 L56.7 168.0 L58.0 168.0 L59.4 168.0 L60.7 167.9 L62.1 167.9 L63.4 167.8 L64.8 167.6 L66.1 167.4 L67.5 167.2 L68.8 166.8 L70.2 166.4 L71.5 165.8 L72.8 165.1 L74.2 164.2 L75.5 163.2 L76.9 161.9 L78.2 160.5 L79.6 158.9 L80.9 157.1 L82.3 155.1 L83.6 153.0 L84.9 150.8 L86.3 148.6 L87.6 146.4 L89.0 144.3 L90.3 142.4 L91.7 140.7 L93.0 139.3 L94.4 138.2 L95.7 137.5 L97.1 137.3 L98.4 137.4 L99.7 137.6 L101.1 138.1 L102.4 138.7 L103.8 139.5 L105.1 140.4 L106.5 141.4 L107.8 142.6 L109.2 143.7 L110.5 144.9 L111.8 146.2 L113.2 147.4 L114.5 148.7 L115.9 149.9 L117.2 151.2 L118.6 152.3 L119.9 153.5 L121.3 154.6 L122.6 155.7 L124.0 156.7 L125.3 157.6 L126.6 158.5 L128.0 159.4 L129.3 160.1 L130.7 160.9 L132.0 161.6 L133.4 162.2 L134.7 162.8 L136.1 163.3 L137.4 163.8 L138.7 164.2 L140.1 164.6 L141.4 165.0 L142.8 165.3 L144.1 165.6 L145.5 165.9 L146.8 166.2 L148.2 166.4 L149.5 166.6 L150.9 166.8 L152.2 166.9 L153.5 167.1 L154.9 167.2 L156.2 167.3 L157.6 167.5 L158.9 167.6 L160.3 167.7 L161.6 167.7 L163.0 167.8 L164.3 167.9 L165.6 168.0 L167.0 168.0 L168.3 168.1 L169.7 168.2 L171.0 168.2 L172.4 168.3 L173.7 168.3 L175.1 168.4 L176.4 168.4 L177.8 168.5" stroke="#6a9a70" stroke-width="1.25"/>
</g>
<rect x="110" y="75" width="68.2" height="28.5" fill="url(#inset)"/>
<rect x="111.5" y="84.5" width="5.7" height="17.5" fill="#2ea4ff" opacity="0.95"/>
<rect x="118.1" y="84.5" width="5.7" height="17.5" fill="#2ea4ff" opacity="0.80"/>
<rect x="124.7" y="84.5" width="5.7" height="17.5" fill="#2ea4ff" opacity="0.68"/>
<rect x="131.3" y="84.5" width="5.7" height="17.5" fill="#2ea4ff" opacity="0.56"/>
<rect x="137.9" y="84.5" width="5.7" height="17.5" fill="#2ea4ff" opacity="0.45"/>
<rect x="144.5" y="84.5" width="5.7" height="17.5" fill="#2ea4ff" opacity="0.35"/>
<rect x="151.1" y="84.5" width="5.7" height="17.5" fill="#2ea4ff" opacity="0.26"/>
<rect x="157.7" y="84.5" width="5.7" height="17.5" fill="#2ea4ff" opacity="0.18"/>
<rect x="164.3" y="84.5" width="5.7" height="17.5" fill="#2ea4ff" opacity="0.10"/>
<rect x="170.9" y="84.5" width="5.7" height="17.5" fill="#2ea4ff" opacity="0.05"/>
<rect x="110" y="75" width="68.2" height="28.5" fill="url(#insetv)"/>
<text x="145" y="82.4" text-anchor="middle" class="sb" style="font-size:5.5px;fill:#e8f0ff;stroke:none">[ Ag<tspan dy="-1.5" style="font-size:3px">+</tspan><tspan dy="1.5"> ] (mM)</tspan></text>
<text x="115.8" y="88.2" text-anchor="middle" class="sb" style="font-size:4.5px;fill:#dfe8ff;stroke:none">0</text>
<text x="171.3" y="88.6" text-anchor="middle" class="sb" style="font-size:5.5px;fill:#fff;stroke:none">1</text>
<path d="M119.5 86.5 H166" stroke="#eef" stroke-width="0.7" fill="none"/><path d="M164.5 85 L167.5 86.5 L164.5 88 Z" fill="#eef"/>
<rect x="43.3" y="73.2" width="136.7" height="103.7" fill="none" stroke="#1a1a1a" stroke-width="1"/>
<path d="M39.8 170.2 H43.3 M39.8 148.2 H43.3 M39.8 126.2 H43.3 M39.8 104.2 H43.3 M39.8 82.2 H43.3 M41.3 159.2 H43.3 M41.3 137.2 H43.3 M41.3 115.2 H43.3 M41.3 93.2 H43.3 M56.7 176.9 V180.2 M83.6 176.9 V180.2 M110.5 176.9 V180.2 M137.4 176.9 V180.2 M164.3 176.9 V180.2 M70.2 176.9 V178.9 M97.1 176.9 V178.9 M124.0 176.9 V178.9 M150.9 176.9 V178.9 M177.8 176.9 V178.9" stroke="#1a1a1a" stroke-width="0.9" fill="none"/>
<text x="38.6" y="172.1" text-anchor="end" class="sb" style="font-size:5.4px;fill:#000">0</text>
<text x="38.6" y="150.1" text-anchor="end" class="sb" style="font-size:5.4px;fill:#000">500</text>
<text x="38.6" y="128.1" text-anchor="end" class="sb" style="font-size:5.4px;fill:#000">1000</text>
<text x="38.6" y="106.1" text-anchor="end" class="sb" style="font-size:5.4px;fill:#000">1500</text>
<text x="38.6" y="84.1" text-anchor="end" class="sb" style="font-size:5.4px;fill:#000">2000</text>
<text x="56.7" y="184.7" text-anchor="middle" class="sb" style="font-size:5.4px;fill:#000">400</text>
<text x="83.6" y="184.7" text-anchor="middle" class="sb" style="font-size:5.4px;fill:#000">450</text>
<text x="110.5" y="184.7" text-anchor="middle" class="sb" style="font-size:5.4px;fill:#000">500</text>
<text x="137.4" y="184.7" text-anchor="middle" class="sb" style="font-size:5.4px;fill:#000">550</text>
<text x="164.3" y="184.7" text-anchor="middle" class="sb" style="font-size:5.4px;fill:#000">600</text>
<text x="112.1" y="194.2" text-anchor="middle" class="sb" style="font-size:8.7px">Wavelength (nm)</text>
<text transform="translate(25.0 130.6) rotate(-90)" text-anchor="middle" class="sb" style="font-size:8.7px">FL. Intensity (a.u.)</text>
<text x="53.7" y="86.2" text-anchor="middle" class="sb" style="font-size:8.6px">0</text>
<path d="M53.4 88 V127" stroke="#f01818" stroke-width="1" fill="none"/><path d="M51.6 125.5 L53.4 131.5 L55.2 125.5 Z" fill="#f01818"/>
<text x="56.4" y="109.3" class="sb" style="font-size:8px">[ Ag<tspan dy="-3" style="font-size:5px">+</tspan><tspan dy="3"> ]</tspan></text>
<text x="51.6" y="140.7" class="sb" style="font-size:8.6px">1mM</text>
<text x="29.6" y="212.5" class="cap">(A) Ag<tspan dy="-2.4" style="font-size:11px;font-weight:normal">+</tspan><tspan dy="2.4">, MMI-CuNCs</tspan></text>
<rect x="197.4" y="33.4" width="139.2" height="35" fill="#06060c"/>
<path d="M215.8 33.4 L233.0 33.4 C232.2 44 230.9 51.6 229.3 58.6 Q228.9 63.2 224.4 63.2 Q219.9 63.2 219.5 58.6 C217.9 51.6 216.6 44 215.8 33.4 Z" fill="#2436c8" opacity="0.45" transform="translate(224.40 0) scale(1.12 1.03) translate(-224.40 -0.9)"/>
<path d="M215.8 33.4 L233.0 33.4 C232.2 44 230.9 51.6 229.3 58.6 Q228.9 63.2 224.4 63.2 Q219.9 63.2 219.5 58.6 C217.9 51.6 216.6 44 215.8 33.4 Z" fill="url(#tube)"/>
<path d="M218.1 49.3 L230.7 49.3 L229.9 54.4 L218.9 54.4 Z" fill="#c888e8" opacity="0.85"/>
<path d="M243.8 33.4 L261.0 33.4 C260.2 44 258.9 51.0 257.3 58.0 Q256.9 62.6 252.4 62.6 Q247.9 62.6 247.5 58.0 C245.9 51.0 244.6 44 243.8 33.4 Z" fill="#2436c8" opacity="0.45" transform="translate(252.40 0) scale(1.12 1.03) translate(-252.40 -0.9)"/>
<path d="M243.8 33.4 L261.0 33.4 C260.2 44 258.9 51.0 257.3 58.0 Q256.9 62.6 252.4 62.6 Q247.9 62.6 247.5 58.0 C245.9 51.0 244.6 44 243.8 33.4 Z" fill="url(#tube)"/>
<path d="M246.5 52.5 L258.3 52.5 L257.5 57.0 L247.3 57.0 Z" fill="#ff50a8" opacity="1.00"/>
<path d="M267.9 33.4 L285.1 33.4 C284.3 44 283.0 50.5 281.4 57.5 Q281.0 62.1 276.5 62.1 Q272.0 62.1 271.6 57.5 C270.0 50.5 268.7 44 267.9 33.4 Z" fill="#2436c8" opacity="0.45" transform="translate(276.50 0) scale(1.12 1.03) translate(-276.50 -0.9)"/>
<path d="M267.9 33.4 L285.1 33.4 C284.3 44 283.0 50.5 281.4 57.5 Q281.0 62.1 276.5 62.1 Q272.0 62.1 271.6 57.5 C270.0 50.5 268.7 44 267.9 33.4 Z" fill="url(#tube)"/>
<path d="M270.6 51.7 L282.4 51.7 L281.6 56.5 L271.4 56.5 Z" fill="#ff48b0" opacity="1.00"/>
<path d="M292.4 33.4 L309.6 33.4 C308.8 44 307.5 49.8 305.9 56.8 Q305.5 61.4 301.0 61.4 Q296.5 61.4 296.1 56.8 C294.5 49.8 293.2 44 292.4 33.4 Z" fill="#2436c8" opacity="0.45" transform="translate(301.00 0) scale(1.12 1.03) translate(-301.00 -0.9)"/>
<path d="M292.4 33.4 L309.6 33.4 C308.8 44 307.5 49.8 305.9 56.8 Q305.5 61.4 301.0 61.4 Q296.5 61.4 296.1 56.8 C294.5 49.8 293.2 44 292.4 33.4 Z" fill="url(#tube)"/>
<path d="M295.1 51.4 L306.9 51.4 L306.0 56.5 L296.0 56.5 Z" fill="#ff48b8" opacity="1.00"/>
<path d="M315.2 33.4 L332.4 33.4 C331.6 44 330.3 49.0 328.7 56.0 Q328.3 60.6 323.8 60.6 Q319.3 60.6 318.9 56.0 C317.3 49.0 316.0 44 315.2 33.4 Z" fill="#2436c8" opacity="0.45" transform="translate(323.80 0) scale(1.12 1.03) translate(-323.80 -0.9)"/>
<path d="M315.2 33.4 L332.4 33.4 C331.6 44 330.3 49.0 328.7 56.0 Q328.3 60.6 323.8 60.6 Q319.3 60.6 318.9 56.0 C317.3 49.0 316.0 44 315.2 33.4 Z" fill="url(#tube)"/>
<path d="M317.6 48.5 L330.0 48.5 L329.1 53.5 L318.5 53.5 Z" fill="#ff40b0" opacity="1.00"/>
<text x="197.6" y="29.2" text-anchor="start" class="tb" style="font-size:8.6px">[Ag<tspan dy="-2.4" style="font-size:6px">+</tspan><tspan dy="2.4">]=100</tspan></text>
<text x="252.0" y="29.2" text-anchor="middle" class="tb" style="font-size:8.6px">50</text>
<text x="276.0" y="29.2" text-anchor="middle" class="tb" style="font-size:8.6px">25</text>
<text x="300.0" y="29.2" text-anchor="middle" class="tb" style="font-size:8.6px">10</text>
<text x="324.6" y="29.2" text-anchor="middle" class="tb" style="font-size:8.6px">0μM</text>
<text x="197.2" y="82.7" class="cap" xml:space="preserve">(B) Ag<tspan dy="-2.4" style="font-size:11px;font-weight:normal">+</tspan><tspan dy="2.4">,  </tspan><tspan dx="-0.8">CuNC/ESM</tspan></text>
<g clip-path="url(#clipC)">
<path class="cv" d="M380.0 167.8 L381.3 167.7 L382.5 167.7 L383.7 167.6 L385.0 167.4 L386.2 167.2 L387.5 167.0 L388.7 166.9 L389.9 166.8 L391.2 166.8 L392.4 166.9 L393.6 167.1 L394.9 167.2 L396.1 167.4 L397.3 167.5 L398.6 167.6 L399.8 167.7 L401.1 167.7 L402.3 167.7 L403.5 167.8 L404.8 167.8 L406.0 167.7 L407.2 167.7 L408.5 167.7 L409.7 167.7 L410.9 167.7 L412.2 167.6 L413.4 167.6 L414.6 167.5 L415.9 167.4 L417.1 167.3 L418.4 167.2 L419.6 167.1 L420.8 167.0 L422.1 166.9 L423.3 166.8 L424.5 166.6 L425.8 166.5 L427.0 166.3 L428.2 166.2 L429.5 166.0 L430.7 165.8 L432.0 165.7 L433.2 165.5 L434.4 165.3 L435.7 165.2 L436.9 165.0 L438.1 164.9 L439.4 164.8 L440.6 164.7 L441.8 164.6 L443.1 164.5 L444.3 164.5 L445.5 164.5 L446.8 164.5 L448.0 164.5 L449.3 164.6 L450.5 164.6 L451.7 164.7 L453.0 164.9 L454.2 165.0 L455.4 165.1 L456.7 165.3 L457.9 165.5 L459.1 165.7 L460.4 165.9 L461.6 166.1 L462.9 166.4 L464.1 166.6 L465.3 166.8 L466.6 167.0 L467.8 167.2 L469.0 167.4 L470.3 167.6 L471.5 167.8 L472.7 168.0 L474.0 168.1 L475.2 168.3 L476.4 168.3 L477.7 168.4 L478.9 168.4 L480.2 168.3 L481.4 168.2 L482.6 168.1 L483.9 167.9 L485.1 167.8 L486.3 167.7 L487.6 167.6 L488.8 167.6 L490.0 167.6 L491.3 167.7 L492.5 167.9 L493.8 168.1 L495.0 168.3 L496.2 168.5 L497.5 168.7 L498.7 168.9 L499.9 169.1 L501.2 169.3 L502.4 169.5 L503.6 169.7 L504.9 169.9 L506.1 170.1 L507.3 170.3 L508.6 170.5 L509.8 170.7 L511.1 170.9 L512.3 171.0 L513.5 171.2 L514.8 171.3 L516.0 171.4" stroke="#ff2020" stroke-width="1.3"/>
<path class="cv" d="M380.0 167.8 L381.3 167.7 L382.5 167.7 L383.7 167.5 L385.0 167.4 L386.2 167.2 L387.5 167.0 L388.7 166.9 L389.9 166.8 L391.2 166.8 L392.4 166.9 L393.6 167.0 L394.9 167.2 L396.1 167.4 L397.3 167.5 L398.6 167.6 L399.8 167.6 L401.1 167.6 L402.3 167.6 L403.5 167.6 L404.8 167.6 L406.0 167.6 L407.2 167.5 L408.5 167.5 L409.7 167.4 L410.9 167.3 L412.2 167.2 L413.4 167.1 L414.6 167.0 L415.9 166.9 L417.1 166.7 L418.4 166.5 L419.6 166.4 L420.8 166.1 L422.1 165.9 L423.3 165.7 L424.5 165.4 L425.8 165.2 L427.0 164.9 L428.2 164.6 L429.5 164.3 L430.7 164.1 L432.0 163.8 L433.2 163.5 L434.4 163.2 L435.7 163.0 L436.9 162.7 L438.1 162.5 L439.4 162.3 L440.6 162.1 L441.8 162.0 L443.1 161.9 L444.3 161.8 L445.5 161.8 L446.8 161.8 L448.0 161.9 L449.3 161.9 L450.5 162.1 L451.7 162.2 L453.0 162.4 L454.2 162.6 L455.4 162.9 L456.7 163.1 L457.9 163.4 L459.1 163.7 L460.4 164.1 L461.6 164.4 L462.9 164.7 L464.1 165.1 L465.3 165.4 L466.6 165.7 L467.8 166.1 L469.0 166.4 L470.3 166.7 L471.5 167.0 L472.7 167.2 L474.0 167.5 L475.2 167.7 L476.4 167.8 L477.7 167.9 L478.9 167.9 L480.2 167.9 L481.4 167.8 L482.6 167.7 L483.9 167.6 L485.1 167.5 L486.3 167.4 L487.6 167.3 L488.8 167.3 L490.0 167.4 L491.3 167.5 L492.5 167.7 L493.8 168.0 L495.0 168.2 L496.2 168.4 L497.5 168.6 L498.7 168.8 L499.9 169.0 L501.2 169.2 L502.4 169.4 L503.6 169.6 L504.9 169.8 L506.1 170.0 L507.3 170.2 L508.6 170.5 L509.8 170.7 L511.1 170.8 L512.3 171.0 L513.5 171.1 L514.8 171.3 L516.0 171.4" stroke="#303030" stroke-width="1.3"/>
<path class="cv" d="M380.0 167.8 L381.3 167.7 L382.5 167.7 L383.7 167.5 L385.0 167.4 L386.2 167.2 L387.5 167.0 L388.7 166.9 L389.9 166.8 L391.2 166.8 L392.4 166.9 L393.6 167.0 L394.9 167.2 L396.1 167.3 L397.3 167.5 L398.6 167.5 L399.8 167.6 L401.1 167.6 L402.3 167.6 L403.5 167.5 L404.8 167.5 L406.0 167.4 L407.2 167.4 L408.5 167.3 L409.7 167.2 L410.9 167.0 L412.2 166.9 L413.4 166.7 L414.6 166.6 L415.9 166.3 L417.1 166.1 L418.4 165.9 L419.6 165.6 L420.8 165.3 L422.1 165.0 L423.3 164.6 L424.5 164.3 L425.8 163.9 L427.0 163.5 L428.2 163.1 L429.5 162.7 L430.7 162.3 L432.0 161.9 L433.2 161.5 L434.4 161.2 L435.7 160.8 L436.9 160.5 L438.1 160.2 L439.4 159.9 L440.6 159.7 L441.8 159.5 L443.1 159.4 L444.3 159.3 L445.5 159.2 L446.8 159.2 L448.0 159.3 L449.3 159.4 L450.5 159.6 L451.7 159.8 L453.0 160.0 L454.2 160.3 L455.4 160.7 L456.7 161.0 L457.9 161.4 L459.1 161.8 L460.4 162.3 L461.6 162.7 L462.9 163.2 L464.1 163.6 L465.3 164.1 L466.6 164.5 L467.8 165.0 L469.0 165.4 L470.3 165.8 L471.5 166.1 L472.7 166.5 L474.0 166.8 L475.2 167.1 L476.4 167.3 L477.7 167.4 L478.9 167.5 L480.2 167.5 L481.4 167.5 L482.6 167.4 L483.9 167.3 L485.1 167.2 L486.3 167.1 L487.6 167.1 L488.8 167.1 L490.0 167.2 L491.3 167.3 L492.5 167.6 L493.8 167.8 L495.0 168.0 L496.2 168.3 L497.5 168.5 L498.7 168.7 L499.9 168.9 L501.2 169.1 L502.4 169.3 L503.6 169.5 L504.9 169.8 L506.1 170.0 L507.3 170.2 L508.6 170.4 L509.8 170.6 L511.1 170.8 L512.3 171.0 L513.5 171.1 L514.8 171.3 L516.0 171.4" stroke="#a01818" stroke-width="1.3"/>
<path class="cv" d="M380.0 167.8 L381.3 167.7 L382.5 167.7 L383.7 167.5 L385.0 167.4 L386.2 167.2 L387.5 167.0 L388.7 166.9 L389.9 166.8 L391.2 166.8 L392.4 166.9 L393.6 167.0 L394.9 167.2 L396.1 167.3 L397.3 167.4 L398.6 167.5 L399.8 167.5 L401.1 167.5 L402.3 167.5 L403.5 167.4 L404.8 167.4 L406.0 167.3 L407.2 167.2 L408.5 167.0 L409.7 166.9 L410.9 166.7 L412.2 166.5 L413.4 166.3 L414.6 166.1 L415.9 165.8 L417.1 165.5 L418.4 165.2 L419.6 164.8 L420.8 164.4 L422.1 164.0 L423.3 163.6 L424.5 163.1 L425.8 162.6 L427.0 162.1 L428.2 161.6 L429.5 161.1 L430.7 160.6 L432.0 160.0 L433.2 159.5 L434.4 159.1 L435.7 158.6 L436.9 158.2 L438.1 157.8 L439.4 157.4 L440.6 157.1 L441.8 156.9 L443.1 156.7 L444.3 156.6 L445.5 156.6 L446.8 156.6 L448.0 156.6 L449.3 156.8 L450.5 157.0 L451.7 157.3 L453.0 157.6 L454.2 158.0 L455.4 158.4 L456.7 158.8 L457.9 159.3 L459.1 159.9 L460.4 160.4 L461.6 161.0 L462.9 161.5 L464.1 162.1 L465.3 162.7 L466.6 163.2 L467.8 163.8 L469.0 164.3 L470.3 164.8 L471.5 165.3 L472.7 165.7 L474.0 166.1 L475.2 166.5 L476.4 166.7 L477.7 167.0 L478.9 167.1 L480.2 167.2 L481.4 167.2 L482.6 167.1 L483.9 167.0 L485.1 166.9 L486.3 166.9 L487.6 166.8 L488.8 166.9 L490.0 167.0 L491.3 167.1 L492.5 167.4 L493.8 167.6 L495.0 167.9 L496.2 168.2 L497.5 168.4 L498.7 168.6 L499.9 168.8 L501.2 169.0 L502.4 169.2 L503.6 169.5 L504.9 169.7 L506.1 169.9 L507.3 170.2 L508.6 170.4 L509.8 170.6 L511.1 170.8 L512.3 171.0 L513.5 171.1 L514.8 171.3 L516.0 171.4" stroke="#ff2a8a" stroke-width="1.3"/>
<path class="cv" d="M380.0 167.8 L381.3 167.7 L382.5 167.7 L383.7 167.5 L385.0 167.4 L386.2 167.2 L387.5 167.0 L388.7 166.8 L389.9 166.8 L391.2 166.8 L392.4 166.8 L393.6 167.0 L394.9 167.1 L396.1 167.3 L397.3 167.4 L398.6 167.4 L399.8 167.4 L401.1 167.4 L402.3 167.3 L403.5 167.3 L404.8 167.2 L406.0 167.1 L407.2 166.9 L408.5 166.7 L409.7 166.6 L410.9 166.3 L412.2 166.1 L413.4 165.8 L414.6 165.5 L415.9 165.1 L417.1 164.7 L418.4 164.3 L419.6 163.8 L420.8 163.3 L422.1 162.7 L423.3 162.1 L424.5 161.5 L425.8 160.9 L427.0 160.3 L428.2 159.6 L429.5 158.9 L430.7 158.3 L432.0 157.6 L433.2 156.9 L434.4 156.3 L435.7 155.7 L436.9 155.2 L438.1 154.7 L439.4 154.2 L440.6 153.9 L441.8 153.6 L443.1 153.3 L444.3 153.2 L445.5 153.1 L446.8 153.1 L448.0 153.2 L449.3 153.4 L450.5 153.7 L451.7 154.0 L453.0 154.4 L454.2 154.9 L455.4 155.4 L456.7 156.0 L457.9 156.6 L459.1 157.3 L460.4 158.0 L461.6 158.7 L462.9 159.4 L464.1 160.2 L465.3 160.9 L466.6 161.6 L467.8 162.3 L469.0 163.0 L470.3 163.6 L471.5 164.2 L472.7 164.7 L474.0 165.2 L475.2 165.7 L476.4 166.0 L477.7 166.3 L478.9 166.5 L480.2 166.7 L481.4 166.7 L482.6 166.7 L483.9 166.6 L485.1 166.6 L486.3 166.5 L487.6 166.5 L488.8 166.6 L490.0 166.7 L491.3 166.9 L492.5 167.1 L493.8 167.4 L495.0 167.7 L496.2 168.0 L497.5 168.2 L498.7 168.5 L499.9 168.7 L501.2 168.9 L502.4 169.1 L503.6 169.4 L504.9 169.6 L506.1 169.9 L507.3 170.1 L508.6 170.4 L509.8 170.6 L511.1 170.8 L512.3 171.0 L513.5 171.1 L514.8 171.3 L516.0 171.4" stroke="#0c9a30" stroke-width="1.3"/>
<path class="cv" d="M380.0 167.8 L381.3 167.7 L382.5 167.7 L383.7 167.5 L385.0 167.4 L386.2 167.2 L387.5 167.0 L388.7 166.8 L389.9 166.7 L391.2 166.7 L392.4 166.8 L393.6 166.9 L394.9 167.1 L396.1 167.2 L397.3 167.3 L398.6 167.3 L399.8 167.3 L401.1 167.2 L402.3 167.2 L403.5 167.1 L404.8 166.9 L406.0 166.8 L407.2 166.6 L408.5 166.3 L409.7 166.1 L410.9 165.8 L412.2 165.4 L413.4 165.0 L414.6 164.6 L415.9 164.1 L417.1 163.6 L418.4 163.0 L419.6 162.4 L420.8 161.7 L422.1 161.0 L423.3 160.2 L424.5 159.4 L425.8 158.6 L427.0 157.7 L428.2 156.9 L429.5 156.0 L430.7 155.1 L432.0 154.2 L433.2 153.4 L434.4 152.6 L435.7 151.8 L436.9 151.1 L438.1 150.4 L439.4 149.9 L440.6 149.4 L441.8 149.0 L443.1 148.7 L444.3 148.5 L445.5 148.4 L446.8 148.4 L448.0 148.5 L449.3 148.7 L450.5 149.1 L451.7 149.5 L453.0 150.1 L454.2 150.7 L455.4 151.4 L456.7 152.1 L457.9 153.0 L459.1 153.8 L460.4 154.7 L461.6 155.6 L462.9 156.6 L464.1 157.5 L465.3 158.4 L466.6 159.4 L467.8 160.2 L469.0 161.1 L470.3 161.9 L471.5 162.7 L472.7 163.4 L474.0 164.0 L475.2 164.6 L476.4 165.1 L477.7 165.5 L478.9 165.8 L480.2 166.0 L481.4 166.1 L482.6 166.1 L483.9 166.1 L485.1 166.1 L486.3 166.0 L487.6 166.1 L488.8 166.2 L490.0 166.3 L491.3 166.5 L492.5 166.8 L493.8 167.1 L495.0 167.5 L496.2 167.8 L497.5 168.0 L498.7 168.3 L499.9 168.5 L501.2 168.8 L502.4 169.0 L503.6 169.2 L504.9 169.5 L506.1 169.8 L507.3 170.0 L508.6 170.3 L509.8 170.5 L511.1 170.7 L512.3 170.9 L513.5 171.1 L514.8 171.2 L516.0 171.4" stroke="#2020a8" stroke-width="1.3"/>
<path class="cv" d="M380.0 167.8 L381.3 167.7 L382.5 167.6 L383.7 167.5 L385.0 167.4 L386.2 167.2 L387.5 167.0 L388.7 166.8 L389.9 166.7 L391.2 166.7 L392.4 166.8 L393.6 166.9 L394.9 167.0 L396.1 167.1 L397.3 167.2 L398.6 167.2 L399.8 167.2 L401.1 167.1 L402.3 167.0 L403.5 166.8 L404.8 166.6 L406.0 166.4 L407.2 166.2 L408.5 165.9 L409.7 165.5 L410.9 165.1 L412.2 164.6 L413.4 164.1 L414.6 163.6 L415.9 162.9 L417.1 162.2 L418.4 161.5 L419.6 160.7 L420.8 159.8 L422.1 158.9 L423.3 157.9 L424.5 156.8 L425.8 155.8 L427.0 154.7 L428.2 153.5 L429.5 152.4 L430.7 151.3 L432.0 150.1 L433.2 149.0 L434.4 148.0 L435.7 147.0 L436.9 146.1 L438.1 145.2 L439.4 144.5 L440.6 143.9 L441.8 143.4 L443.1 143.0 L444.3 142.7 L445.5 142.6 L446.8 142.6 L448.0 142.8 L449.3 143.1 L450.5 143.5 L451.7 144.1 L453.0 144.8 L454.2 145.6 L455.4 146.4 L456.7 147.4 L457.9 148.5 L459.1 149.6 L460.4 150.7 L461.6 151.9 L462.9 153.1 L464.1 154.3 L465.3 155.4 L466.6 156.6 L467.8 157.7 L469.0 158.8 L470.3 159.9 L471.5 160.8 L472.7 161.7 L474.0 162.6 L475.2 163.3 L476.4 163.9 L477.7 164.5 L478.9 164.9 L480.2 165.1 L481.4 165.3 L482.6 165.4 L483.9 165.4 L485.1 165.5 L486.3 165.5 L487.6 165.5 L488.8 165.7 L490.0 165.9 L491.3 166.1 L492.5 166.4 L493.8 166.8 L495.0 167.1 L496.2 167.5 L497.5 167.8 L498.7 168.0 L499.9 168.3 L501.2 168.6 L502.4 168.8 L503.6 169.1 L504.9 169.4 L506.1 169.7 L507.3 170.0 L508.6 170.2 L509.8 170.5 L511.1 170.7 L512.3 170.9 L513.5 171.1 L514.8 171.2 L516.0 171.4" stroke="#ff8020" stroke-width="1.3"/>
<path class="cv" d="M380.0 167.8 L381.3 167.7 L382.5 167.6 L383.7 167.5 L385.0 167.4 L386.2 167.2 L387.5 167.0 L388.7 166.8 L389.9 166.7 L391.2 166.7 L392.4 166.7 L393.6 166.8 L394.9 167.0 L396.1 167.1 L397.3 167.1 L398.6 167.1 L399.8 167.0 L401.1 166.9 L402.3 166.8 L403.5 166.6 L404.8 166.3 L406.0 166.0 L407.2 165.7 L408.5 165.3 L409.7 164.9 L410.9 164.4 L412.2 163.8 L413.4 163.2 L414.6 162.5 L415.9 161.7 L417.1 160.8 L418.4 159.9 L419.6 158.9 L420.8 157.8 L422.1 156.6 L423.3 155.4 L424.5 154.1 L425.8 152.8 L427.0 151.4 L428.2 150.0 L429.5 148.6 L430.7 147.2 L432.0 145.8 L433.2 144.4 L434.4 143.1 L435.7 141.9 L436.9 140.8 L438.1 139.7 L439.4 138.8 L440.6 138.0 L441.8 137.4 L443.1 136.9 L444.3 136.6 L445.5 136.5 L446.8 136.5 L448.0 136.7 L449.3 137.1 L450.5 137.6 L451.7 138.3 L453.0 139.1 L454.2 140.1 L455.4 141.2 L456.7 142.4 L457.9 143.7 L459.1 145.0 L460.4 146.5 L461.6 147.9 L462.9 149.4 L464.1 150.8 L465.3 152.3 L466.6 153.7 L467.8 155.1 L469.0 156.4 L470.3 157.7 L471.5 158.9 L472.7 160.0 L474.0 161.0 L475.2 161.9 L476.4 162.7 L477.7 163.4 L478.9 163.9 L480.2 164.3 L481.4 164.5 L482.6 164.7 L483.9 164.8 L485.1 164.8 L486.3 164.9 L487.6 165.0 L488.8 165.1 L490.0 165.4 L491.3 165.6 L492.5 166.0 L493.8 166.4 L495.0 166.8 L496.2 167.2 L497.5 167.5 L498.7 167.8 L499.9 168.1 L501.2 168.4 L502.4 168.6 L503.6 168.9 L504.9 169.2 L506.1 169.6 L507.3 169.9 L508.6 170.1 L509.8 170.4 L511.1 170.7 L512.3 170.9 L513.5 171.1 L514.8 171.2 L516.0 171.4" stroke="#8a1c8a" stroke-width="1.3"/>
<path class="cv" d="M380.0 167.8 L381.3 167.7 L382.5 167.6 L383.7 167.5 L385.0 167.3 L386.2 167.1 L387.5 166.9 L388.7 166.8 L389.9 166.7 L391.2 166.6 L392.4 166.7 L393.6 166.8 L394.9 166.9 L396.1 167.0 L397.3 167.0 L398.6 167.0 L399.8 166.9 L401.1 166.7 L402.3 166.5 L403.5 166.3 L404.8 166.0 L406.0 165.7 L407.2 165.3 L408.5 164.8 L409.7 164.3 L410.9 163.7 L412.2 163.0 L413.4 162.3 L414.6 161.4 L415.9 160.5 L417.1 159.5 L418.4 158.4 L419.6 157.2 L420.8 155.9 L422.1 154.5 L423.3 153.0 L424.5 151.5 L425.8 149.9 L427.0 148.3 L428.2 146.7 L429.5 145.0 L430.7 143.3 L432.0 141.7 L433.2 140.1 L434.4 138.6 L435.7 137.1 L436.9 135.8 L438.1 134.6 L439.4 133.5 L440.6 132.6 L441.8 131.8 L443.1 131.2 L444.3 130.9 L445.5 130.7 L446.8 130.7 L448.0 131.0 L449.3 131.4 L450.5 132.0 L451.7 132.9 L453.0 133.8 L454.2 135.0 L455.4 136.3 L456.7 137.7 L457.9 139.2 L459.1 140.8 L460.4 142.4 L461.6 144.1 L462.9 145.9 L464.1 147.6 L465.3 149.3 L466.6 151.0 L467.8 152.6 L469.0 154.1 L470.3 155.6 L471.5 157.0 L472.7 158.3 L474.0 159.5 L475.2 160.6 L476.4 161.5 L477.7 162.3 L478.9 163.0 L480.2 163.4 L481.4 163.8 L482.6 164.0 L483.9 164.1 L485.1 164.2 L486.3 164.3 L487.6 164.4 L488.8 164.6 L490.0 164.9 L491.3 165.2 L492.5 165.6 L493.8 166.1 L495.0 166.5 L496.2 166.9 L497.5 167.2 L498.7 167.6 L499.9 167.9 L501.2 168.2 L502.4 168.5 L503.6 168.8 L504.9 169.1 L506.1 169.4 L507.3 169.8 L508.6 170.1 L509.8 170.4 L511.1 170.6 L512.3 170.8 L513.5 171.0 L514.8 171.2 L516.0 171.3" stroke="#9a30f0" stroke-width="1.3"/>
<path class="cv" d="M380.0 167.8 L381.3 167.7 L382.5 167.6 L383.7 167.5 L385.0 167.3 L386.2 167.1 L387.5 166.9 L388.7 166.7 L389.9 166.6 L391.2 166.6 L392.4 166.6 L393.6 166.7 L394.9 166.8 L396.1 166.9 L397.3 166.9 L398.6 166.8 L399.8 166.7 L401.1 166.5 L402.3 166.3 L403.5 166.0 L404.8 165.7 L406.0 165.3 L407.2 164.8 L408.5 164.2 L409.7 163.6 L410.9 162.9 L412.2 162.1 L413.4 161.2 L414.6 160.2 L415.9 159.1 L417.1 157.8 L418.4 156.5 L419.6 155.1 L420.8 153.5 L422.1 151.9 L423.3 150.2 L424.5 148.4 L425.8 146.5 L427.0 144.6 L428.2 142.6 L429.5 140.6 L430.7 138.6 L432.0 136.7 L433.2 134.8 L434.4 133.0 L435.7 131.3 L436.9 129.7 L438.1 128.2 L439.4 126.9 L440.6 125.8 L441.8 124.9 L443.1 124.3 L444.3 123.8 L445.5 123.6 L446.8 123.7 L448.0 124.0 L449.3 124.5 L450.5 125.2 L451.7 126.2 L453.0 127.4 L454.2 128.7 L455.4 130.2 L456.7 131.9 L457.9 133.7 L459.1 135.6 L460.4 137.5 L461.6 139.5 L462.9 141.6 L464.1 143.6 L465.3 145.6 L466.6 147.6 L467.8 149.5 L469.0 151.4 L470.3 153.1 L471.5 154.8 L472.7 156.3 L474.0 157.7 L475.2 159.0 L476.4 160.1 L477.7 161.1 L478.9 161.8 L480.2 162.4 L481.4 162.8 L482.6 163.1 L483.9 163.3 L485.1 163.5 L486.3 163.6 L487.6 163.8 L488.8 164.0 L490.0 164.3 L491.3 164.7 L492.5 165.2 L493.8 165.6 L495.0 166.1 L496.2 166.5 L497.5 166.9 L498.7 167.3 L499.9 167.6 L501.2 167.9 L502.4 168.3 L503.6 168.6 L504.9 169.0 L506.1 169.3 L507.3 169.7 L508.6 170.0 L509.8 170.3 L511.1 170.6 L512.3 170.8 L513.5 171.0 L514.8 171.2 L516.0 171.3" stroke="#101010" stroke-width="1.3"/>
<path class="cv" d="M380.0 167.8 L381.3 167.7 L382.5 167.6 L383.7 167.5 L385.0 167.3 L386.2 167.1 L387.5 166.9 L388.7 166.7 L389.9 166.6 L391.2 166.5 L392.4 166.6 L393.6 166.6 L394.9 166.7 L396.1 166.7 L397.3 166.7 L398.6 166.6 L399.8 166.4 L401.1 166.1 L402.3 165.8 L403.5 165.4 L404.8 165.0 L406.0 164.4 L407.2 163.8 L408.5 163.0 L409.7 162.2 L410.9 161.3 L412.2 160.2 L413.4 159.0 L414.6 157.6 L415.9 156.2 L417.1 154.6 L418.4 152.8 L419.6 150.9 L420.8 148.9 L422.1 146.7 L423.3 144.4 L424.5 142.1 L425.8 139.6 L427.0 137.1 L428.2 134.5 L429.5 131.9 L430.7 129.3 L432.0 126.7 L433.2 124.2 L434.4 121.8 L435.7 119.6 L436.9 117.5 L438.1 115.6 L439.4 113.9 L440.6 112.5 L441.8 111.3 L443.1 110.4 L444.3 109.9 L445.5 109.6 L446.8 109.6 L448.0 110.0 L449.3 110.7 L450.5 111.7 L451.7 112.9 L453.0 114.5 L454.2 116.2 L455.4 118.2 L456.7 120.4 L457.9 122.8 L459.1 125.2 L460.4 127.8 L461.6 130.4 L462.9 133.0 L464.1 135.7 L465.3 138.3 L466.6 140.9 L467.8 143.4 L469.0 145.8 L470.3 148.1 L471.5 150.3 L472.7 152.3 L474.0 154.2 L475.2 155.8 L476.4 157.3 L477.7 158.5 L478.9 159.6 L480.2 160.4 L481.4 161.0 L482.6 161.4 L483.9 161.7 L485.1 162.0 L486.3 162.2 L487.6 162.5 L488.8 162.8 L490.0 163.2 L491.3 163.7 L492.5 164.2 L493.8 164.8 L495.0 165.3 L496.2 165.9 L497.5 166.3 L498.7 166.7 L499.9 167.1 L501.2 167.5 L502.4 167.9 L503.6 168.2 L504.9 168.6 L506.1 169.0 L507.3 169.4 L508.6 169.8 L509.8 170.2 L511.1 170.5 L512.3 170.7 L513.5 171.0 L514.8 171.1 L516.0 171.3" stroke="#1c30f0" stroke-width="1.3"/>
<path class="cv" d="M380.0 167.8 L381.3 167.7 L382.5 167.6 L383.7 167.5 L385.0 167.3 L386.2 167.1 L387.5 166.9 L388.7 166.7 L389.9 166.5 L391.2 166.5 L392.4 166.5 L393.6 166.5 L394.9 166.6 L396.1 166.6 L397.3 166.5 L398.6 166.3 L399.8 166.1 L401.1 165.8 L402.3 165.4 L403.5 164.9 L404.8 164.4 L406.0 163.7 L407.2 163.0 L408.5 162.1 L409.7 161.1 L410.9 160.0 L412.2 158.7 L413.4 157.3 L414.6 155.7 L415.9 153.9 L417.1 152.0 L418.4 149.9 L419.6 147.6 L420.8 145.2 L422.1 142.7 L423.3 140.0 L424.5 137.1 L425.8 134.2 L427.0 131.2 L428.2 128.1 L429.5 125.0 L430.7 121.9 L432.0 118.9 L433.2 115.9 L434.4 113.1 L435.7 110.4 L436.9 107.9 L438.1 105.7 L439.4 103.7 L440.6 102.0 L441.8 100.6 L443.1 99.6 L444.3 98.9 L445.5 98.6 L446.8 98.6 L448.0 99.1 L449.3 99.9 L450.5 101.0 L451.7 102.5 L453.0 104.3 L454.2 106.4 L455.4 108.8 L456.7 111.4 L457.9 114.2 L459.1 117.1 L460.4 120.1 L461.6 123.2 L462.9 126.4 L464.1 129.5 L465.3 132.6 L466.6 135.7 L467.8 138.6 L469.0 141.5 L470.3 144.2 L471.5 146.8 L472.7 149.2 L474.0 151.4 L475.2 153.3 L476.4 155.1 L477.7 156.6 L478.9 157.8 L480.2 158.8 L481.4 159.5 L482.6 160.1 L483.9 160.5 L485.1 160.8 L486.3 161.1 L487.6 161.4 L488.8 161.8 L490.0 162.3 L491.3 162.8 L492.5 163.5 L493.8 164.1 L495.0 164.8 L496.2 165.3 L497.5 165.8 L498.7 166.3 L499.9 166.7 L501.2 167.1 L502.4 167.5 L503.6 168.0 L504.9 168.4 L506.1 168.8 L507.3 169.3 L508.6 169.7 L509.8 170.1 L511.1 170.4 L512.3 170.7 L513.5 170.9 L514.8 171.1 L516.0 171.3" stroke="#0c8c8c" stroke-width="1.3"/>
<path class="cv" d="M380.0 167.8 L381.3 167.7 L382.5 167.6 L383.7 167.5 L385.0 167.3 L386.2 167.1 L387.5 166.9 L388.7 166.7 L389.9 166.5 L391.2 166.4 L392.4 166.4 L393.6 166.5 L394.9 166.5 L396.1 166.5 L397.3 166.4 L398.6 166.3 L399.8 166.0 L401.1 165.7 L402.3 165.2 L403.5 164.7 L404.8 164.1 L406.0 163.4 L407.2 162.6 L408.5 161.7 L409.7 160.6 L410.9 159.4 L412.2 158.1 L413.4 156.5 L414.6 154.8 L415.9 153.0 L417.1 150.9 L418.4 148.7 L419.6 146.3 L420.8 143.7 L422.1 141.0 L423.3 138.1 L424.5 135.0 L425.8 131.9 L427.0 128.7 L428.2 125.4 L429.5 122.1 L430.7 118.8 L432.0 115.6 L433.2 112.5 L434.4 109.4 L435.7 106.6 L436.9 103.9 L438.1 101.5 L439.4 99.4 L440.6 97.6 L441.8 96.1 L443.1 95.0 L444.3 94.2 L445.5 93.9 L446.8 94.0 L448.0 94.4 L449.3 95.3 L450.5 96.5 L451.7 98.1 L453.0 100.1 L454.2 102.3 L455.4 104.8 L456.7 107.6 L457.9 110.5 L459.1 113.6 L460.4 116.9 L461.6 120.2 L462.9 123.5 L464.1 126.9 L465.3 130.2 L466.6 133.5 L467.8 136.6 L469.0 139.7 L470.3 142.6 L471.5 145.3 L472.7 147.8 L474.0 150.2 L475.2 152.3 L476.4 154.1 L477.7 155.7 L478.9 157.1 L480.2 158.1 L481.4 158.9 L482.6 159.5 L483.9 160.0 L485.1 160.3 L486.3 160.6 L487.6 161.0 L488.8 161.4 L490.0 161.9 L491.3 162.5 L492.5 163.2 L493.8 163.9 L495.0 164.5 L496.2 165.1 L497.5 165.6 L498.7 166.1 L499.9 166.5 L501.2 167.0 L502.4 167.4 L503.6 167.8 L504.9 168.3 L506.1 168.8 L507.3 169.2 L508.6 169.6 L509.8 170.0 L511.1 170.4 L512.3 170.6 L513.5 170.9 L514.8 171.1 L516.0 171.3" stroke="#f018d8" stroke-width="1.3"/>
<path class="cv" d="M380.0 167.8 L381.3 167.7 L382.5 167.6 L383.7 167.5 L385.0 167.3 L386.2 167.1 L387.5 166.8 L388.7 166.6 L389.9 166.5 L391.2 166.4 L392.4 166.4 L393.6 166.4 L394.9 166.5 L396.1 166.4 L397.3 166.3 L398.6 166.2 L399.8 165.9 L401.1 165.5 L402.3 165.1 L403.5 164.5 L404.8 163.9 L406.0 163.2 L407.2 162.3 L408.5 161.3 L409.7 160.1 L410.9 158.8 L412.2 157.4 L413.4 155.8 L414.6 153.9 L415.9 151.9 L417.1 149.8 L418.4 147.4 L419.6 144.8 L420.8 142.1 L422.1 139.1 L423.3 136.1 L424.5 132.8 L425.8 129.5 L427.0 126.1 L428.2 122.6 L429.5 119.1 L430.7 115.6 L432.0 112.1 L433.2 108.8 L434.4 105.5 L435.7 102.5 L436.9 99.7 L438.1 97.1 L439.4 94.8 L440.6 92.9 L441.8 91.3 L443.1 90.1 L444.3 89.3 L445.5 89.0 L446.8 89.1 L448.0 89.6 L449.3 90.5 L450.5 91.8 L451.7 93.5 L453.0 95.6 L454.2 98.0 L455.4 100.6 L456.7 103.6 L457.9 106.7 L459.1 110.0 L460.4 113.5 L461.6 117.0 L462.9 120.6 L464.1 124.1 L465.3 127.7 L466.6 131.1 L467.8 134.5 L469.0 137.7 L470.3 140.8 L471.5 143.7 L472.7 146.4 L474.0 148.9 L475.2 151.2 L476.4 153.1 L477.7 154.9 L478.9 156.3 L480.2 157.4 L481.4 158.3 L482.6 158.9 L483.9 159.4 L485.1 159.8 L486.3 160.1 L487.6 160.5 L488.8 161.0 L490.0 161.5 L491.3 162.1 L492.5 162.8 L493.8 163.6 L495.0 164.2 L496.2 164.9 L497.5 165.4 L498.7 165.9 L499.9 166.4 L501.2 166.8 L502.4 167.3 L503.6 167.7 L504.9 168.2 L506.1 168.7 L507.3 169.1 L508.6 169.6 L509.8 170.0 L511.1 170.3 L512.3 170.6 L513.5 170.9 L514.8 171.1 L516.0 171.3" stroke="#16167e" stroke-width="1.3"/>
<path class="cv" d="M380.0 167.8 L381.3 167.7 L382.5 167.6 L383.7 167.5 L385.0 167.3 L386.2 167.1 L387.5 166.8 L388.7 166.6 L389.9 166.5 L391.2 166.4 L392.4 166.4 L393.6 166.4 L394.9 166.4 L396.1 166.4 L397.3 166.3 L398.6 166.1 L399.8 165.8 L401.1 165.4 L402.3 164.9 L403.5 164.3 L404.8 163.7 L406.0 162.9 L407.2 162.0 L408.5 160.9 L409.7 159.7 L410.9 158.3 L412.2 156.8 L413.4 155.0 L414.6 153.1 L415.9 151.0 L417.1 148.7 L418.4 146.2 L419.6 143.5 L420.8 140.6 L422.1 137.5 L423.3 134.2 L424.5 130.8 L425.8 127.3 L427.0 123.7 L428.2 120.0 L429.5 116.2 L430.7 112.5 L432.0 108.9 L433.2 105.3 L434.4 101.9 L435.7 98.7 L436.9 95.7 L438.1 93.0 L439.4 90.6 L440.6 88.5 L441.8 86.9 L443.1 85.6 L444.3 84.8 L445.5 84.4 L446.8 84.5 L448.0 85.0 L449.3 86.0 L450.5 87.4 L451.7 89.2 L453.0 91.4 L454.2 93.9 L455.4 96.7 L456.7 99.8 L457.9 103.2 L459.1 106.7 L460.4 110.3 L461.6 114.0 L462.9 117.8 L464.1 121.6 L465.3 125.3 L466.6 128.9 L467.8 132.5 L469.0 135.9 L470.3 139.2 L471.5 142.3 L472.7 145.1 L474.0 147.8 L475.2 150.1 L476.4 152.2 L477.7 154.0 L478.9 155.5 L480.2 156.8 L481.4 157.7 L482.6 158.4 L483.9 158.9 L485.1 159.3 L486.3 159.7 L487.6 160.1 L488.8 160.6 L490.0 161.2 L491.3 161.8 L492.5 162.5 L493.8 163.3 L495.0 164.0 L496.2 164.6 L497.5 165.2 L498.7 165.7 L499.9 166.2 L501.2 166.7 L502.4 167.1 L503.6 167.6 L504.9 168.1 L506.1 168.6 L507.3 169.1 L508.6 169.5 L509.8 169.9 L511.1 170.3 L512.3 170.6 L513.5 170.9 L514.8 171.1 L516.0 171.3" stroke="#8a8a10" stroke-width="1.3"/>
</g>
<rect x="380.2" y="75" width="136.2" height="100" fill="none" stroke="#111" stroke-width="1.4"/>
<path d="M380.5 170.6 h3.2 M380.5 153.4 h3.2 M380.5 136.1 h3.2 M380.5 118.9 h3.2 M380.5 101.6 h3.2 M380.5 84.4 h3.2 M380.5 162.0 h2 M380.5 144.7 h2 M380.5 127.5 h2 M380.5 110.3 h2 M380.5 93.0 h2 M392.4 174.6 v-2.8 M433.6 174.6 v-2.8 M474.8 174.6 v-2.8 M413.0 174.6 v-1.8 M454.2 174.6 v-1.8 M495.4 174.6 v-1.8" stroke="#111" stroke-width="1" fill="none"/>
<text x="377.4" y="173.5" text-anchor="end" class="sb" style="font-size:8px;fill:#000">0.0</text>
<text x="377.4" y="156.3" text-anchor="end" class="sb" style="font-size:8px;fill:#000">0.2</text>
<text x="377.4" y="139.0" text-anchor="end" class="sb" style="font-size:8px;fill:#000">0.4</text>
<text x="377.4" y="121.8" text-anchor="end" class="sb" style="font-size:8px;fill:#000">0.6</text>
<text x="377.4" y="104.5" text-anchor="end" class="sb" style="font-size:8px;fill:#000">0.8</text>
<text x="377.4" y="87.3" text-anchor="end" class="sb" style="font-size:8px;fill:#000">1.0</text>
<text x="392.4" y="185.5" text-anchor="middle" class="sb" style="font-size:8px;fill:#000">500</text>
<text x="433.6" y="185.5" text-anchor="middle" class="sb" style="font-size:8px;fill:#000">600</text>
<text x="474.8" y="185.5" text-anchor="middle" class="sb" style="font-size:8px;fill:#000">700</text>
<text x="516.0" y="185.5" text-anchor="middle" class="sb" style="font-size:8px;fill:#000">800</text>
<text x="448.3" y="195.2" text-anchor="middle" class="sb" style="font-size:10.9px">Wavelength/nm</text>
<text transform="translate(362.4 132) rotate(-90)" text-anchor="middle" class="sb" style="font-size:10.2px">Normalized FL Intensity</text>
<text x="408.8" y="96.2" text-anchor="middle" class="sb" style="font-size:6px">0</text>
<path d="M409 98 V112.5" stroke="#111" stroke-width="0.8" fill="none"/><path d="M407.6 111.5 L409 115.5 L410.4 111.5 Z" fill="#111"/>
<text x="394.6" y="108.8" class="sb" style="font-size:6.2px">Ag<tspan dy="-2.2" style="font-size:4.5px">+</tspan></text>
<text x="410" y="123.3" text-anchor="middle" class="sb" style="font-size:6.5px">11.6 nM</text>
<text x="364.3" y="215.5" class="cap">(C) Ag<tspan dy="-2.4" style="font-size:11px;font-weight:normal">+</tspan><tspan dy="2.4">, NAC-CuNCs</tspan></text>
<g clip-path="url(#clipE)">
<path class="cv" d="M64.7 349.1 L65.9 349.6 L67.1 350.0 L68.3 350.5 L69.5 350.9 L70.7 351.3 L71.9 351.7 L73.0 352.1 L74.2 352.4 L75.4 352.8 L76.6 353.1 L77.8 353.4 L79.0 353.6 L80.2 353.9 L81.4 354.2 L82.6 354.4 L83.8 354.6 L84.9 354.8 L86.1 355.0 L87.3 355.2 L88.5 355.4 L89.7 355.6 L90.9 355.7 L92.1 355.9 L93.3 356.0 L94.5 356.2 L95.7 356.3 L96.8 356.4 L98.0 356.6 L99.2 356.7 L100.4 356.8 L101.6 356.9 L102.8 357.0 L104.0 357.1 L105.2 357.1 L106.4 357.2 L107.6 357.3 L108.7 357.4 L109.9 357.4 L111.1 357.5 L112.3 357.6 L113.5 357.6 L114.7 357.7 L115.9 357.7 L117.1 357.8 L118.3 357.8 L119.5 357.9 L120.6 357.9 L121.8 358.0 L123.0 358.0 L124.2 358.0 L125.4 358.1 L126.6 358.1 L127.8 358.1 L129.0 358.2 L130.2 358.2 L131.4 358.2 L132.5 358.2 L133.7 358.3 L134.9 358.3 L136.1 358.3 L137.3 358.3 L138.5 358.3 L139.7 358.4 L140.9 358.4 L142.1 358.4 L143.3 358.4 L144.4 358.4 L145.6 358.4 L146.8 358.4 L148.0 358.4 L149.2 358.4 L150.4 358.4 L151.6 358.4 L152.8 358.3 L154.0 358.3 L155.2 358.3 L156.3 358.2 L157.5 358.2 L158.7 358.1 L159.9 358.0 L161.1 358.0 L162.3 357.9 L163.5 357.8 L164.7 357.7 L165.9 357.6 L167.0 357.5 L168.2 357.4 L169.4 357.3 L170.6 357.2 L171.8 357.1 L173.0 356.9 L174.2 356.8 L175.4 356.7 L176.6 356.5 L177.8 356.4 L178.9 356.2 L180.1 356.1 L181.3 355.9 L182.5 355.7 L183.7 355.5" stroke="#a8a838" stroke-width="1.1"/>
<path class="cv" d="M64.7 345.1 L65.9 345.7 L67.1 346.2 L68.3 346.7 L69.5 347.2 L70.7 347.6 L71.9 348.0 L73.0 348.4 L74.2 348.7 L75.4 349.0 L76.6 349.3 L77.8 349.5 L79.0 349.8 L80.2 350.0 L81.4 350.2 L82.6 350.4 L83.8 350.5 L84.9 350.7 L86.1 350.8 L87.3 351.0 L88.5 351.1 L89.7 351.2 L90.9 351.3 L92.1 351.4 L93.3 351.5 L94.5 351.5 L95.7 351.6 L96.8 351.6 L98.0 351.7 L99.2 351.7 L100.4 351.7 L101.6 351.7 L102.8 351.7 L104.0 351.7 L105.2 351.7 L106.4 351.7 L107.6 351.7 L108.7 351.6 L109.9 351.6 L111.1 351.5 L112.3 351.4 L113.5 351.4 L114.7 351.3 L115.9 351.2 L117.1 351.1 L118.3 351.0 L119.5 350.9 L120.6 350.8 L121.8 350.8 L123.0 350.7 L124.2 350.6 L125.4 350.5 L126.6 350.5 L127.8 350.4 L129.0 350.4 L130.2 350.4 L131.4 350.4 L132.5 350.4 L133.7 350.4 L134.9 350.4 L136.1 350.5 L137.3 350.6 L138.5 350.6 L139.7 350.7 L140.9 350.8 L142.1 350.9 L143.3 351.0 L144.4 351.1 L145.6 351.2 L146.8 351.3 L148.0 351.4 L149.2 351.5 L150.4 351.6 L151.6 351.7 L152.8 351.8 L154.0 351.9 L155.2 352.0 L156.3 352.0 L157.5 352.1 L158.7 352.2 L159.9 352.2 L161.1 352.3 L162.3 352.3 L163.5 352.3 L164.7 352.4 L165.9 352.4 L167.0 352.4 L168.2 352.4 L169.4 352.4 L170.6 352.4 L171.8 352.4 L173.0 352.3 L174.2 352.3 L175.4 352.2 L176.6 352.1 L177.8 352.0 L178.9 351.9 L180.1 351.8 L181.3 351.8 L182.5 351.7 L183.7 351.6" stroke="#c04848" stroke-width="1.1"/>
<path class="cv" d="M64.7 345.3 L65.9 345.2 L67.1 345.2 L68.3 345.1 L69.5 345.0 L70.7 345.0 L71.9 344.9 L73.0 344.8 L74.2 344.7 L75.4 344.5 L76.6 344.4 L77.8 344.3 L79.0 344.1 L80.2 343.9 L81.4 343.8 L82.6 343.6 L83.8 343.4 L84.9 343.2 L86.1 342.9 L87.3 342.7 L88.5 342.4 L89.7 342.2 L90.9 341.9 L92.1 341.6 L93.3 341.3 L94.5 341.0 L95.7 340.7 L96.8 340.3 L98.0 340.0 L99.2 339.6 L100.4 339.3 L101.6 338.9 L102.8 338.5 L104.0 338.2 L105.2 337.8 L106.4 337.4 L107.6 337.1 L108.7 336.7 L109.9 336.4 L111.1 336.0 L112.3 335.7 L113.5 335.3 L114.7 335.0 L115.9 334.7 L117.1 334.4 L118.3 334.1 L119.5 333.9 L120.6 333.7 L121.8 333.4 L123.0 333.3 L124.2 333.1 L125.4 333.0 L126.6 332.8 L127.8 332.8 L129.0 332.7 L130.2 332.7 L131.4 332.7 L132.5 332.7 L133.7 332.8 L134.9 332.9 L136.1 333.0 L137.3 333.1 L138.5 333.3 L139.7 333.5 L140.9 333.7 L142.1 334.0 L143.3 334.2 L144.4 334.5 L145.6 334.8 L146.8 335.2 L148.0 335.5 L149.2 335.9 L150.4 336.2 L151.6 336.6 L152.8 337.0 L154.0 337.4 L155.2 337.8 L156.3 338.3 L157.5 338.7 L158.7 339.1 L159.9 339.5 L161.1 339.9 L162.3 340.3 L163.5 340.8 L164.7 341.2 L165.9 341.6 L167.0 341.9 L168.2 342.3 L169.4 342.7 L170.6 343.1 L171.8 343.4 L173.0 343.7 L174.2 344.1 L175.4 344.4 L176.6 344.7 L177.8 345.0 L178.9 345.2 L180.1 345.5 L181.3 345.7 L182.5 346.0 L183.7 346.2" stroke="#a8308a" stroke-width="1.1"/>
<path class="cv" d="M64.7 344.1 L65.9 344.0 L67.1 343.8 L68.3 343.6 L69.5 343.4 L70.7 343.1 L71.9 342.8 L73.0 342.5 L74.2 342.2 L75.4 341.9 L76.6 341.5 L77.8 341.1 L79.0 340.6 L80.2 340.2 L81.4 339.7 L82.6 339.1 L83.8 338.6 L84.9 338.0 L86.1 337.3 L87.3 336.7 L88.5 336.0 L89.7 335.2 L90.9 334.5 L92.1 333.7 L93.3 332.8 L94.5 332.0 L95.7 331.1 L96.8 330.2 L98.0 329.3 L99.2 328.3 L100.4 327.4 L101.6 326.4 L102.8 325.4 L104.0 324.4 L105.2 323.4 L106.4 322.4 L107.6 321.4 L108.7 320.4 L109.9 319.4 L111.1 318.5 L112.3 317.6 L113.5 316.7 L114.7 315.8 L115.9 315.0 L117.1 314.2 L118.3 313.4 L119.5 312.7 L120.6 312.1 L121.8 311.5 L123.0 311.0 L124.2 310.5 L125.4 310.1 L126.6 309.8 L127.8 309.5 L129.0 309.4 L130.2 309.2 L131.4 309.2 L132.5 309.3 L133.7 309.4 L134.9 309.6 L136.1 309.8 L137.3 310.2 L138.5 310.6 L139.7 311.1 L140.9 311.6 L142.1 312.2 L143.3 312.9 L144.4 313.6 L145.6 314.4 L146.8 315.2 L148.0 316.0 L149.2 317.0 L150.4 317.9 L151.6 318.9 L152.8 319.9 L154.0 320.9 L155.2 321.9 L156.3 322.9 L157.5 324.0 L158.7 325.0 L159.9 326.1 L161.1 327.2 L162.3 328.2 L163.5 329.2 L164.7 330.2 L165.9 331.2 L167.0 332.2 L168.2 333.2 L169.4 334.1 L170.6 335.0 L171.8 335.9 L173.0 336.7 L174.2 337.5 L175.4 338.3 L176.6 339.0 L177.8 339.7 L178.9 340.4 L180.1 341.0 L181.3 341.6 L182.5 342.2 L183.7 342.8" stroke="#a838e0" stroke-width="1.1"/>
<path class="cv" d="M64.7 342.2 L65.9 341.9 L67.1 341.6 L68.3 341.3 L69.5 340.9 L70.7 340.5 L71.9 340.1 L73.0 339.7 L74.2 339.2 L75.4 338.6 L76.6 338.1 L77.8 337.5 L79.0 336.8 L80.2 336.1 L81.4 335.4 L82.6 334.6 L83.8 333.7 L84.9 332.8 L86.1 331.9 L87.3 330.9 L88.5 329.9 L89.7 328.8 L90.9 327.7 L92.1 326.6 L93.3 325.4 L94.5 324.1 L95.7 322.8 L96.8 321.5 L98.0 320.2 L99.2 318.8 L100.4 317.4 L101.6 316.0 L102.8 314.6 L104.0 313.1 L105.2 311.7 L106.4 310.2 L107.6 308.8 L108.7 307.4 L109.9 306.0 L111.1 304.6 L112.3 303.3 L113.5 302.0 L114.7 300.7 L115.9 299.5 L117.1 298.3 L118.3 297.2 L119.5 296.2 L120.6 295.3 L121.8 294.4 L123.0 293.6 L124.2 293.0 L125.4 292.4 L126.6 291.9 L127.8 291.5 L129.0 291.2 L130.2 291.0 L131.4 290.9 L132.5 290.9 L133.7 291.1 L134.9 291.3 L136.1 291.6 L137.3 292.1 L138.5 292.6 L139.7 293.2 L140.9 293.9 L142.1 294.8 L143.3 295.7 L144.4 296.6 L145.6 297.7 L146.8 298.8 L148.0 300.0 L149.2 301.2 L150.4 302.5 L151.6 303.8 L152.8 305.2 L154.0 306.5 L155.2 308.0 L156.3 309.4 L157.5 310.8 L158.7 312.3 L159.9 313.7 L161.1 315.1 L162.3 316.6 L163.5 318.0 L164.7 319.4 L165.9 320.7 L167.0 322.1 L168.2 323.4 L169.4 324.6 L170.6 325.8 L171.8 327.0 L173.0 328.2 L174.2 329.3 L175.4 330.3 L176.6 331.3 L177.8 332.3 L178.9 333.2 L180.1 334.0 L181.3 334.9 L182.5 335.6 L183.7 336.4" stroke="#1c2a88" stroke-width="1.1"/>
<path class="cv" d="M64.7 340.4 L65.9 340.1 L67.1 339.7 L68.3 339.4 L69.5 339.0 L70.7 338.5 L71.9 338.1 L73.0 337.6 L74.2 337.0 L75.4 336.4 L76.6 335.8 L77.8 335.1 L79.0 334.4 L80.2 333.6 L81.4 332.7 L82.6 331.9 L83.8 330.9 L84.9 329.9 L86.1 328.9 L87.3 327.8 L88.5 326.6 L89.7 325.4 L90.9 324.2 L92.1 322.9 L93.3 321.5 L94.5 320.1 L95.7 318.7 L96.8 317.2 L98.0 315.7 L99.2 314.2 L100.4 312.6 L101.6 311.0 L102.8 309.4 L104.0 307.8 L105.2 306.2 L106.4 304.6 L107.6 302.9 L108.7 301.3 L109.9 299.8 L111.1 298.2 L112.3 296.7 L113.5 295.2 L114.7 293.8 L115.9 292.5 L117.1 291.2 L118.3 290.0 L119.5 288.8 L120.6 287.8 L121.8 286.8 L123.0 285.9 L124.2 285.2 L125.4 284.5 L126.6 283.9 L127.8 283.5 L129.0 283.2 L130.2 283.0 L131.4 282.9 L132.5 282.9 L133.7 283.1 L134.9 283.3 L136.1 283.7 L137.3 284.2 L138.5 284.8 L139.7 285.5 L140.9 286.4 L142.1 287.3 L143.3 288.3 L144.4 289.4 L145.6 290.6 L146.8 291.9 L148.0 293.2 L149.2 294.6 L150.4 296.0 L151.6 297.5 L152.8 299.1 L154.0 300.6 L155.2 302.2 L156.3 303.9 L157.5 305.5 L158.7 307.1 L159.9 308.8 L161.1 310.4 L162.3 312.0 L163.5 313.6 L164.7 315.2 L165.9 316.7 L167.0 318.2 L168.2 319.7 L169.4 321.1 L170.6 322.5 L171.8 323.8 L173.0 325.1 L174.2 326.4 L175.4 327.6 L176.6 328.7 L177.8 329.8 L178.9 330.8 L180.1 331.8 L181.3 332.7 L182.5 333.6 L183.7 334.4" stroke="#0c9a40" stroke-width="1.1"/>
<path class="cv" d="M64.7 338.6 L65.9 338.3 L67.1 338.0 L68.3 337.6 L69.5 337.1 L70.7 336.7 L71.9 336.2 L73.0 335.6 L74.2 335.0 L75.4 334.4 L76.6 333.7 L77.8 333.0 L79.0 332.2 L80.2 331.4 L81.4 330.5 L82.6 329.5 L83.8 328.5 L84.9 327.5 L86.1 326.3 L87.3 325.2 L88.5 323.9 L89.7 322.7 L90.9 321.3 L92.1 319.9 L93.3 318.5 L94.5 317.0 L95.7 315.5 L96.8 313.9 L98.0 312.3 L99.2 310.6 L100.4 309.0 L101.6 307.3 L102.8 305.5 L104.0 303.8 L105.2 302.1 L106.4 300.3 L107.6 298.6 L108.7 296.9 L109.9 295.2 L111.1 293.6 L112.3 292.0 L113.5 290.4 L114.7 288.9 L115.9 287.4 L117.1 286.1 L118.3 284.7 L119.5 283.5 L120.6 282.4 L121.8 281.4 L123.0 280.4 L124.2 279.6 L125.4 278.9 L126.6 278.3 L127.8 277.8 L129.0 277.5 L130.2 277.3 L131.4 277.2 L132.5 277.2 L133.7 277.3 L134.9 277.6 L136.1 278.0 L137.3 278.6 L138.5 279.2 L139.7 280.0 L140.9 280.8 L142.1 281.8 L143.3 282.9 L144.4 284.1 L145.6 285.3 L146.8 286.7 L148.0 288.1 L149.2 289.6 L150.4 291.1 L151.6 292.7 L152.8 294.3 L154.0 296.0 L155.2 297.7 L156.3 299.4 L157.5 301.2 L158.7 302.9 L159.9 304.6 L161.1 306.4 L162.3 308.1 L163.5 309.8 L164.7 311.4 L165.9 313.1 L167.0 314.7 L168.2 316.2 L169.4 317.8 L170.6 319.2 L171.8 320.7 L173.0 322.0 L174.2 323.3 L175.4 324.6 L176.6 325.8 L177.8 327.0 L178.9 328.1 L180.1 329.1 L181.3 330.1 L182.5 331.0 L183.7 331.9" stroke="#f020e0" stroke-width="1.1"/>
<path class="cv" d="M64.7 337.5 L65.9 337.2 L67.1 336.8 L68.3 336.4 L69.5 335.9 L70.7 335.5 L71.9 334.9 L73.0 334.4 L74.2 333.8 L75.4 333.1 L76.6 332.4 L77.8 331.6 L79.0 330.8 L80.2 330.0 L81.4 329.0 L82.6 328.1 L83.8 327.0 L84.9 325.9 L86.1 324.8 L87.3 323.6 L88.5 322.3 L89.7 321.0 L90.9 319.6 L92.1 318.2 L93.3 316.7 L94.5 315.2 L95.7 313.6 L96.8 312.0 L98.0 310.4 L99.2 308.7 L100.4 307.0 L101.6 305.2 L102.8 303.5 L104.0 301.7 L105.2 299.9 L106.4 298.1 L107.6 296.4 L108.7 294.6 L109.9 292.9 L111.1 291.2 L112.3 289.5 L113.5 287.9 L114.7 286.4 L115.9 284.9 L117.1 283.5 L118.3 282.1 L119.5 280.9 L120.6 279.7 L121.8 278.7 L123.0 277.7 L124.2 276.9 L125.4 276.1 L126.6 275.5 L127.8 275.0 L129.0 274.7 L130.2 274.4 L131.4 274.3 L132.5 274.3 L133.7 274.5 L134.9 274.8 L136.1 275.2 L137.3 275.7 L138.5 276.3 L139.7 277.1 L140.9 278.0 L142.1 279.0 L143.3 280.1 L144.4 281.3 L145.6 282.5 L146.8 283.9 L148.0 285.3 L149.2 286.9 L150.4 288.4 L151.6 290.0 L152.8 291.7 L154.0 293.4 L155.2 295.1 L156.3 296.9 L157.5 298.6 L158.7 300.4 L159.9 302.2 L161.1 303.9 L162.3 305.7 L163.5 307.4 L164.7 309.1 L165.9 310.7 L167.0 312.4 L168.2 313.9 L169.4 315.5 L170.6 317.0 L171.8 318.4 L173.0 319.8 L174.2 321.2 L175.4 322.5 L176.6 323.7 L177.8 324.8 L178.9 326.0 L180.1 327.0 L181.3 328.0 L182.5 328.9 L183.7 329.8" stroke="#2030e8" stroke-width="1.1"/>
<path class="cv" d="M64.7 335.6 L65.9 335.2 L67.1 334.8 L68.3 334.4 L69.5 334.0 L70.7 333.5 L71.9 332.9 L73.0 332.3 L74.2 331.7 L75.4 331.0 L76.6 330.3 L77.8 329.5 L79.0 328.7 L80.2 327.8 L81.4 326.9 L82.6 325.9 L83.8 324.8 L84.9 323.7 L86.1 322.6 L87.3 321.3 L88.5 320.0 L89.7 318.7 L90.9 317.3 L92.1 315.8 L93.3 314.3 L94.5 312.7 L95.7 311.1 L96.8 309.5 L98.0 307.8 L99.2 306.1 L100.4 304.3 L101.6 302.5 L102.8 300.7 L104.0 298.9 L105.2 297.1 L106.4 295.3 L107.6 293.4 L108.7 291.7 L109.9 289.9 L111.1 288.2 L112.3 286.5 L113.5 284.8 L114.7 283.2 L115.9 281.7 L117.1 280.3 L118.3 278.9 L119.5 277.6 L120.6 276.4 L121.8 275.3 L123.0 274.3 L124.2 273.5 L125.4 272.7 L126.6 272.1 L127.8 271.6 L129.0 271.2 L130.2 271.0 L131.4 270.9 L132.5 270.9 L133.7 271.0 L134.9 271.3 L136.1 271.8 L137.3 272.3 L138.5 273.0 L139.7 273.8 L140.9 274.7 L142.1 275.7 L143.3 276.8 L144.4 278.0 L145.6 279.3 L146.8 280.7 L148.0 282.2 L149.2 283.7 L150.4 285.3 L151.6 287.0 L152.8 288.7 L154.0 290.4 L155.2 292.2 L156.3 294.0 L157.5 295.8 L158.7 297.6 L159.9 299.4 L161.1 301.2 L162.3 303.0 L163.5 304.8 L164.7 306.5 L165.9 308.2 L167.0 309.9 L168.2 311.5 L169.4 313.1 L170.6 314.6 L171.8 316.1 L173.0 317.5 L174.2 318.9 L175.4 320.2 L176.6 321.5 L177.8 322.7 L178.9 323.8 L180.1 324.9 L181.3 325.9 L182.5 326.9 L183.7 327.8" stroke="#ff3030" stroke-width="1.1"/>
<path class="cv" d="M64.7 332.7 L65.9 332.4 L67.1 332.0 L68.3 331.6 L69.5 331.1 L70.7 330.6 L71.9 330.1 L73.0 329.5 L74.2 328.9 L75.4 328.2 L76.6 327.5 L77.8 326.8 L79.0 325.9 L80.2 325.1 L81.4 324.1 L82.6 323.1 L83.8 322.1 L84.9 321.0 L86.1 319.8 L87.3 318.5 L88.5 317.3 L89.7 315.9 L90.9 314.5 L92.1 313.0 L93.3 311.5 L94.5 309.9 L95.7 308.3 L96.8 306.7 L98.0 305.0 L99.2 303.2 L100.4 301.5 L101.6 299.7 L102.8 297.9 L104.0 296.0 L105.2 294.2 L106.4 292.4 L107.6 290.6 L108.7 288.8 L109.9 287.0 L111.1 285.3 L112.3 283.6 L113.5 281.9 L114.7 280.3 L115.9 278.8 L117.1 277.3 L118.3 276.0 L119.5 274.7 L120.6 273.5 L121.8 272.4 L123.0 271.4 L124.2 270.6 L125.4 269.8 L126.6 269.2 L127.8 268.7 L129.0 268.3 L130.2 268.1 L131.4 268.0 L132.5 268.0 L133.7 268.2 L134.9 268.5 L136.1 268.9 L137.3 269.5 L138.5 270.2 L139.7 271.0 L140.9 271.9 L142.1 273.0 L143.3 274.1 L144.4 275.4 L145.6 276.7 L146.8 278.1 L148.0 279.6 L149.2 281.2 L150.4 282.8 L151.6 284.5 L152.8 286.2 L154.0 288.0 L155.2 289.8 L156.3 291.6 L157.5 293.5 L158.7 295.3 L159.9 297.1 L161.1 299.0 L162.3 300.8 L163.5 302.6 L164.7 304.4 L165.9 306.1 L167.0 307.8 L168.2 309.4 L169.4 311.1 L170.6 312.6 L171.8 314.1 L173.0 315.6 L174.2 317.0 L175.4 318.3 L176.6 319.6 L177.8 320.8 L178.9 322.0 L180.1 323.1 L181.3 324.1 L182.5 325.1 L183.7 326.1" stroke="#111111" stroke-width="1.1"/>
</g>
<rect x="49" y="262.4" width="149" height="108.6" fill="none" stroke="#222" stroke-width="1"/>
<path d="M49 359.6 h3 M49 336.7 h3 M49 313.8 h3 M49 290.9 h3 M49 268.0 h3 M49 348.1 h1.8 M49 325.2 h1.8 M49 302.4 h1.8 M49 279.4 h1.8 M72.6 371 v-3 M112.0 371 v-3 M151.4 371 v-3 M190.8 371 v-3 M52.9 371 v-1.8 M92.3 371 v-1.8 M131.7 371 v-1.8 M171.1 371 v-1.8" stroke="#222" stroke-width="0.9" fill="none"/>
<text x="46.4" y="362.0" text-anchor="end" class="tb" style="font-size:7.2px">200</text>
<text x="46.4" y="339.1" text-anchor="end" class="tb" style="font-size:7.2px">400</text>
<text x="46.4" y="316.2" text-anchor="end" class="tb" style="font-size:7.2px">600</text>
<text x="46.4" y="293.3" text-anchor="end" class="tb" style="font-size:7.2px">800</text>
<text x="46.4" y="270.4" text-anchor="end" class="tb" style="font-size:7.2px">1000</text>
<text x="72.6" y="381" text-anchor="middle" class="tb" style="font-size:7.2px">550</text>
<text x="112.0" y="381" text-anchor="middle" class="tb" style="font-size:7.2px">600</text>
<text x="151.4" y="381" text-anchor="middle" class="tb" style="font-size:7.2px">650</text>
<text x="190.8" y="381" text-anchor="middle" class="tb" style="font-size:7.2px">700</text>
<text x="127" y="388" text-anchor="middle" class="tb" style="font-size:7.4px">Wavelength ( nm )</text>
<text transform="translate(26.6 319.5) rotate(-90)" text-anchor="middle" class="tb" style="font-size:7.6px">Fluorescence Intensity (a.u.)</text>
<text x="184.8" y="277" text-anchor="middle" class="tb" style="font-size:5.5px">0</text>
<path d="M184.7 278.5 V291" stroke="#111" stroke-width="0.7" fill="none"/><path d="M183.6 290 L184.7 293.4 L185.8 290 Z" fill="#111"/>
<text x="187.6" y="288.4" class="tb" style="font-size:5.8px">Ag<tspan dy="-2" style="font-size:4px">+</tspan></text>
<text x="188.4" y="301" text-anchor="middle" class="tb" style="font-size:5.8px">60 μM</text>
<text x="48.9" y="406.8" class="cap">(E) Ag<tspan dy="-2.4" style="font-size:11px;font-weight:normal">+</tspan><tspan dy="2.4">, CuNCs/ZIF-8</tspan></text>
<path d="M365.1 271.5 V367 M387.1 271.5 V367 M409.1 271.5 V367 M431.2 271.5 V367 M453.2 271.5 V367 M475.3 271.5 V367 M497.4 271.5 V367 M343.5 353.5 H519 M343.5 339.7 H519 M343.5 326.0 H519 M343.5 312.2 H519 M343.5 298.5 H519 M343.5 284.8 H519" stroke="#cfcfcf" stroke-width="0.7" stroke-dasharray="1 2.2" fill="none"/>
<rect x="343" y="271" width="176.4" height="96.3" fill="none" stroke="#5a5a5a" stroke-width="0.9"/>
<path d="M340.6 367.2 H343 M340.6 353.5 H343 M340.6 339.7 H343 M340.6 326.0 H343 M340.6 312.2 H343 M340.6 298.5 H343 M340.6 284.8 H343 M340.6 271.0 H343 M343.0 367.3 V369.6 M365.1 367.3 V369.6 M387.1 367.3 V369.6 M409.1 367.3 V369.6 M431.2 367.3 V369.6 M453.2 367.3 V369.6 M475.3 367.3 V369.6 M497.4 367.3 V369.6 M519.4 367.3 V369.6" stroke="#5a5a5a" stroke-width="0.8" fill="none"/>
<path d="M365.1 284.8 L387.1 298.5 L409.1 312.2 L431.2 326.0 L453.2 339.7 L475.3 353.5 L497.4 367.2" stroke="#2e7ebc" stroke-width="1.1" fill="none"/>
<circle cx="365.1" cy="284.8" r="1.7" fill="#2e7ebc"/>
<circle cx="387.1" cy="298.5" r="1.7" fill="#2e7ebc"/>
<circle cx="409.1" cy="312.2" r="1.7" fill="#2e7ebc"/>
<circle cx="431.2" cy="326.0" r="1.7" fill="#2e7ebc"/>
<circle cx="453.2" cy="339.7" r="1.7" fill="#2e7ebc"/>
<circle cx="475.3" cy="353.5" r="1.7" fill="#2e7ebc"/>
<circle cx="497.4" cy="367.2" r="1.7" fill="#2e7ebc"/>
<text x="339.4" y="369.5" text-anchor="end" class="tr" style="font-size:6.9px">0</text>
<text x="339.4" y="355.8" text-anchor="end" class="tr" style="font-size:6.9px">100</text>
<text x="339.4" y="342.0" text-anchor="end" class="tr" style="font-size:6.9px">200</text>
<text x="339.4" y="328.3" text-anchor="end" class="tr" style="font-size:6.9px">300</text>
<text x="339.4" y="314.5" text-anchor="end" class="tr" style="font-size:6.9px">400</text>
<text x="339.4" y="300.8" text-anchor="end" class="tr" style="font-size:6.9px">500</text>
<text x="339.4" y="287.1" text-anchor="end" class="tr" style="font-size:6.9px">600</text>
<text x="339.4" y="273.3" text-anchor="end" class="tr" style="font-size:6.9px">700</text>
<text x="343.0" y="376.8" text-anchor="middle" class="tr" style="font-size:6.9px">0</text>
<text x="365.1" y="376.8" text-anchor="middle" class="tr" style="font-size:6.9px">1</text>
<text x="387.1" y="376.8" text-anchor="middle" class="tr" style="font-size:6.9px">2</text>
<text x="409.1" y="376.8" text-anchor="middle" class="tr" style="font-size:6.9px">3</text>
<text x="431.2" y="376.8" text-anchor="middle" class="tr" style="font-size:6.9px">4</text>
<text x="453.2" y="376.8" text-anchor="middle" class="tr" style="font-size:6.9px">5</text>
<text x="475.3" y="376.8" text-anchor="middle" class="tr" style="font-size:6.9px">6</text>
<text x="497.4" y="376.8" text-anchor="middle" class="tr" style="font-size:6.9px">7</text>
<text x="519.4" y="376.8" text-anchor="middle" class="tr" style="font-size:6.9px">8</text>
<text x="431" y="387.2" text-anchor="middle" class="tr" style="font-size:7.3px">Silver concentration</text>
<text transform="translate(325 320) rotate(-90)" text-anchor="middle" class="tr" style="font-size:7.3px">Intensity of fluorescence</text>
<text x="364.9" y="408.6" class="cap">(D) Ag<tspan dy="-2.4" style="font-size:11px;font-weight:normal">+</tspan><tspan dy="2.4">, Glu-CuNPs</tspan></text>
</svg>
</body></html>
